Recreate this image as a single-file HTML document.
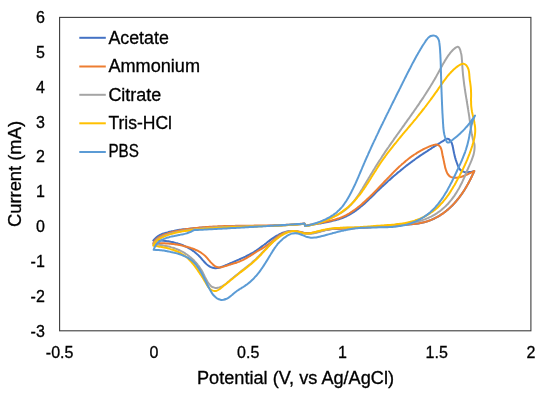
<!DOCTYPE html>
<html><head><meta charset="utf-8"><title>Cyclic voltammogram</title>
<style>
html,body{margin:0;padding:0;background:#fff;}
svg{display:block;font-family:"Liberation Sans",sans-serif;fill:#000;}
text{stroke:#000;stroke-width:0.3px;}
</style></head><body>
<svg width="550" height="394" viewBox="0 0 550 394">
<rect x="0" y="0" width="550" height="394" fill="#fff"/>
<rect x="59.6" y="17.4" width="471.3" height="313.4" fill="none" stroke="#3c3c3c" stroke-width="1.1"/>
<g fill="none" stroke-width="2" stroke-linejoin="round" stroke-linecap="round">
<path d="M153.3 240.6C153.6 240.3 154.4 239.2 155.0 238.6C155.6 238.0 156.2 237.5 156.8 237.0C157.5 236.5 158.2 236.0 158.9 235.6C159.6 235.2 160.4 234.8 161.1 234.5C161.9 234.1 162.6 233.8 163.4 233.5C164.2 233.3 165.0 233.0 165.8 232.8C166.6 232.5 167.4 232.3 168.2 232.1C169.0 231.8 169.9 231.6 170.7 231.5C171.5 231.3 172.3 231.1 173.2 230.9C174.0 230.7 174.8 230.6 175.7 230.4C176.5 230.3 177.3 230.2 178.2 230.0C179.0 229.9 179.9 229.8 180.7 229.7C181.6 229.5 182.4 229.4 183.3 229.3C184.1 229.2 184.9 229.1 185.8 229.0C186.6 228.9 187.5 228.8 188.3 228.8C189.2 228.7 190.0 228.6 190.9 228.5C191.7 228.4 192.6 228.4 193.4 228.3C194.3 228.2 195.1 228.1 196.0 228.1C196.8 228.0 197.6 227.9 198.5 227.9C199.3 227.8 200.2 227.8 201.0 227.7C201.9 227.6 202.7 227.6 203.6 227.5C204.4 227.5 205.2 227.4 206.1 227.4C206.9 227.3 207.8 227.3 208.6 227.3C209.5 227.2 210.3 227.2 211.1 227.1C212.0 227.1 212.8 227.1 213.7 227.0C214.5 227.0 215.4 226.9 216.2 226.9C217.0 226.9 217.9 226.9 218.7 226.8C219.6 226.8 220.4 226.8 221.2 226.7C222.1 226.7 222.9 226.7 223.8 226.7C224.6 226.7 225.4 226.6 226.3 226.6C227.1 226.6 228.0 226.6 228.8 226.6C229.6 226.5 230.5 226.5 231.3 226.5C232.2 226.5 233.0 226.5 233.8 226.5C234.7 226.4 235.5 226.4 236.4 226.4C237.2 226.4 238.0 226.4 238.9 226.4C239.7 226.4 240.6 226.3 241.4 226.3C242.2 226.3 243.1 226.3 243.9 226.3C244.8 226.3 245.6 226.3 246.4 226.3C247.3 226.2 248.1 226.2 249.0 226.2C249.8 226.2 250.6 226.2 251.5 226.2C252.3 226.2 253.1 226.2 254.0 226.2C254.8 226.1 255.7 226.1 256.5 226.1C257.3 226.1 258.2 226.1 259.0 226.1C259.9 226.1 260.7 226.0 261.5 226.0C262.4 226.0 263.2 226.0 264.1 226.0C264.9 225.9 265.7 225.9 266.6 225.9C267.4 225.9 268.3 225.9 269.1 225.8C269.9 225.8 270.8 225.8 271.6 225.8C272.5 225.7 273.3 225.7 274.1 225.7C275.0 225.6 275.8 225.6 276.7 225.6C277.5 225.6 278.3 225.5 279.2 225.5C280.0 225.4 280.9 225.4 281.7 225.4C282.6 225.3 283.4 225.3 284.2 225.2C285.1 225.2 285.9 225.2 286.8 225.1C287.6 225.1 288.5 225.0 289.3 225.0C290.1 224.9 291.0 224.8 291.8 224.8C292.7 224.7 293.5 224.7 294.4 224.6C295.2 224.5 296.0 224.5 296.9 224.4C297.7 224.3 298.6 224.3 299.4 224.2C300.3 224.1 301.1 224.0 302.0 224.0C302.8 223.9 304.1 223.7 304.5 223.7C304.6 224.1 305.1 225.6 305.2 226.0C305.6 225.9 306.7 225.7 307.5 225.5C308.3 225.4 309.1 225.2 309.9 225.1C310.7 224.9 311.5 224.8 312.3 224.6C313.2 224.5 314.0 224.3 314.8 224.2C315.6 224.1 316.5 223.9 317.3 223.8C318.1 223.7 319.0 223.5 319.8 223.4C320.7 223.2 321.5 223.1 322.4 222.9C323.2 222.8 324.1 222.6 324.9 222.5C325.8 222.3 326.6 222.2 327.4 222.0C328.3 221.8 329.1 221.7 330.0 221.5C330.8 221.3 331.7 221.1 332.5 220.9C333.3 220.7 334.2 220.5 335.0 220.3C335.8 220.1 336.6 219.8 337.5 219.6C338.3 219.3 339.1 219.1 339.9 218.8C340.7 218.6 341.5 218.3 342.3 218.0C343.0 217.7 343.8 217.4 344.6 217.0C345.4 216.7 346.1 216.3 346.9 216.0C347.6 215.6 348.3 215.2 349.1 214.8C349.8 214.4 350.5 214.0 351.2 213.6C351.9 213.2 352.6 212.7 353.3 212.3C354.0 211.8 354.7 211.4 355.4 210.9C356.1 210.4 356.7 209.9 357.4 209.4C358.1 208.9 358.7 208.4 359.4 207.9C360.0 207.4 360.7 206.8 361.3 206.3C362.0 205.8 362.6 205.2 363.2 204.7C363.9 204.1 364.5 203.6 365.1 203.0C365.7 202.4 366.4 201.8 367.0 201.3C367.6 200.7 368.2 200.1 368.8 199.5C369.4 198.9 370.0 198.4 370.7 197.8C371.3 197.2 371.9 196.6 372.5 196.0C373.1 195.4 373.7 194.8 374.3 194.2C374.9 193.6 375.5 193.0 376.1 192.4C376.7 191.8 377.3 191.2 377.9 190.6C378.6 190.0 379.2 189.5 379.8 188.9C380.4 188.3 381.0 187.7 381.6 187.1C382.2 186.5 382.8 186.0 383.5 185.4C384.1 184.8 384.7 184.2 385.3 183.7C385.9 183.1 386.6 182.5 387.2 182.0C387.8 181.4 388.4 180.8 389.1 180.3C389.7 179.7 390.3 179.1 391.0 178.6C391.6 178.0 392.2 177.5 392.9 176.9C393.5 176.4 394.1 175.8 394.8 175.3C395.4 174.7 396.0 174.2 396.7 173.7C397.3 173.1 398.0 172.6 398.6 172.0C399.3 171.5 399.9 171.0 400.6 170.4C401.2 169.9 401.9 169.4 402.5 168.9C403.2 168.3 403.8 167.8 404.5 167.3C405.1 166.8 405.8 166.3 406.4 165.8C407.1 165.2 407.8 164.7 408.4 164.2C409.1 163.7 409.8 163.2 410.4 162.7C411.1 162.2 411.8 161.7 412.4 161.2C413.1 160.7 413.8 160.2 414.5 159.8C415.1 159.3 415.8 158.8 416.5 158.3C417.2 157.8 417.9 157.3 418.5 156.9C419.2 156.4 419.9 155.9 420.6 155.4C421.3 155.0 422.0 154.5 422.7 154.0C423.4 153.6 424.1 153.1 424.8 152.7C425.5 152.2 426.2 151.7 426.9 151.3C427.6 150.8 428.3 150.4 429.0 149.9C429.7 149.5 430.4 149.0 431.1 148.6C431.8 148.1 432.5 147.6 433.2 147.2C434.0 146.7 434.7 146.3 435.4 145.8C436.1 145.4 436.8 144.9 437.6 144.5C438.3 144.0 439.0 143.5 439.7 143.1C440.5 142.6 441.2 142.1 441.9 141.7C442.6 141.2 443.4 140.7 444.1 140.3C444.8 139.8 445.6 139.2 446.3 139.0C447.0 138.8 447.8 138.7 448.5 139.0C449.1 139.3 449.8 140.0 450.4 140.7C450.9 141.3 451.4 142.2 451.7 143.0C452.1 143.9 452.3 144.7 452.5 145.6C452.8 146.5 452.9 147.4 453.1 148.2C453.2 149.1 453.4 149.9 453.6 150.7C453.7 151.6 453.9 152.4 454.1 153.2C454.3 153.9 454.4 154.7 454.6 155.5C454.8 156.3 455.0 157.1 455.2 157.8C455.5 158.6 455.7 159.4 455.9 160.1C456.2 160.9 456.4 161.7 456.7 162.5C457.0 163.3 457.3 164.1 457.6 164.9C457.9 165.7 458.2 166.5 458.6 167.3C459.1 168.0 459.5 168.8 460.0 169.5C460.5 170.1 461.2 170.6 461.9 171.1C462.6 171.5 463.4 171.7 464.2 171.9C465.1 172.1 466.0 172.2 466.8 172.3C467.7 172.3 468.7 172.2 469.5 172.1C470.4 172.0 471.3 171.9 472.1 171.7C472.9 171.5 473.9 171.1 474.3 171.0C474.1 171.4 473.6 172.5 473.3 173.3C472.9 174.0 472.6 174.8 472.2 175.6C471.9 176.3 471.5 177.1 471.1 177.8C470.8 178.6 470.4 179.3 470.0 180.1C469.6 180.8 469.3 181.6 468.9 182.3C468.5 183.0 468.1 183.8 467.7 184.5C467.2 185.2 466.8 186.0 466.4 186.7C466.0 187.4 465.5 188.1 465.1 188.9C464.7 189.6 464.2 190.3 463.8 191.0C463.3 191.7 462.9 192.4 462.4 193.1C461.9 193.8 461.4 194.5 460.9 195.1C460.5 195.8 460.0 196.5 459.5 197.2C459.0 197.8 458.4 198.5 457.9 199.1C457.4 199.8 456.9 200.4 456.3 201.1C455.8 201.7 455.2 202.3 454.7 202.9C454.1 203.6 453.5 204.2 453.0 204.8C452.4 205.4 451.8 205.9 451.2 206.5C450.6 207.1 450.0 207.7 449.4 208.2C448.7 208.8 448.1 209.4 447.5 209.9C446.8 210.4 446.2 211.0 445.5 211.5C444.9 212.0 444.2 212.5 443.5 213.0C442.8 213.5 442.1 214.0 441.4 214.4C440.7 214.9 440.0 215.3 439.3 215.8C438.6 216.2 437.9 216.6 437.1 217.1C436.4 217.5 435.6 217.9 434.9 218.2C434.1 218.6 433.4 219.0 432.6 219.3C431.8 219.6 431.1 220.0 430.3 220.3C429.5 220.6 428.7 220.9 427.9 221.1C427.1 221.4 426.3 221.6 425.5 221.9C424.7 222.1 423.9 222.3 423.1 222.5C422.3 222.7 421.5 222.8 420.7 223.0C419.9 223.1 419.0 223.3 418.2 223.4C417.4 223.5 416.6 223.6 415.7 223.8C414.9 223.9 414.1 223.9 413.2 224.0C412.4 224.1 411.6 224.2 410.7 224.3C409.9 224.3 409.1 224.4 408.2 224.5C407.4 224.5 406.6 224.6 405.7 224.7C404.9 224.7 404.0 224.8 403.2 224.8C402.4 224.9 401.5 225.0 400.7 225.0C399.9 225.1 399.0 225.1 398.2 225.2C397.4 225.3 396.5 225.3 395.7 225.4C394.9 225.4 394.0 225.5 393.2 225.6C392.4 225.6 391.5 225.7 390.7 225.7C389.9 225.8 389.0 225.9 388.2 225.9C387.4 226.0 386.5 226.0 385.7 226.1C384.9 226.1 384.0 226.2 383.2 226.3C382.4 226.3 381.5 226.4 380.7 226.4C379.9 226.5 379.0 226.6 378.2 226.6C377.3 226.7 376.5 226.7 375.7 226.8C374.8 226.9 374.0 226.9 373.2 227.0C372.3 227.0 371.5 227.1 370.7 227.2C369.8 227.2 369.0 227.3 368.2 227.3C367.3 227.4 366.5 227.4 365.7 227.5C364.8 227.6 364.0 227.6 363.2 227.7C362.3 227.7 361.5 227.8 360.7 227.8C359.8 227.9 359.0 227.9 358.2 228.0C357.3 228.0 356.5 228.1 355.6 228.1C354.8 228.2 354.0 228.2 353.1 228.2C352.3 228.3 351.5 228.3 350.6 228.4C349.8 228.4 349.0 228.4 348.1 228.4C347.3 228.5 346.5 228.5 345.6 228.5C344.8 228.5 343.9 228.5 343.1 228.6C342.3 228.6 341.4 228.6 340.6 228.6C339.8 228.6 338.9 228.6 338.1 228.7C337.3 228.7 336.4 228.7 335.6 228.8C334.8 228.8 333.9 228.9 333.1 228.9C332.3 229.0 331.4 229.1 330.6 229.2C329.8 229.3 328.9 229.4 328.1 229.6C327.3 229.7 326.4 229.9 325.6 230.1C324.8 230.2 324.0 230.4 323.1 230.6C322.3 230.8 321.5 231.0 320.7 231.3C319.8 231.5 319.0 231.7 318.2 231.9C317.3 232.1 316.5 232.3 315.7 232.4C314.9 232.6 314.0 232.7 313.2 232.9C312.4 233.0 311.6 233.1 310.8 233.2C309.9 233.2 309.1 233.3 308.3 233.2C307.5 233.2 306.7 233.2 305.8 233.1C305.0 233.0 304.2 232.9 303.4 232.7C302.6 232.6 301.8 232.4 301.0 232.2C300.2 232.0 299.3 231.8 298.5 231.6C297.7 231.5 296.9 231.3 296.0 231.2C295.2 231.1 294.4 231.0 293.5 231.0C292.7 230.9 291.9 230.9 291.0 231.0C290.2 231.0 289.4 231.1 288.5 231.2C287.7 231.4 286.9 231.6 286.1 231.8C285.3 232.0 284.5 232.3 283.7 232.5C282.9 232.8 282.1 233.1 281.3 233.5C280.5 233.8 279.8 234.1 279.0 234.5C278.3 234.9 277.6 235.3 276.8 235.7C276.1 236.1 275.4 236.6 274.7 237.0C274.0 237.5 273.3 237.9 272.6 238.4C271.9 238.9 271.2 239.4 270.5 239.9C269.8 240.4 269.2 240.9 268.5 241.4C267.8 241.9 267.1 242.4 266.5 242.9C265.8 243.5 265.1 244.0 264.5 244.5C263.8 245.0 263.1 245.5 262.4 246.1C261.8 246.6 261.1 247.1 260.4 247.6C259.7 248.1 259.1 248.6 258.4 249.1C257.7 249.6 257.0 250.1 256.3 250.5C255.6 251.0 254.9 251.4 254.2 251.9C253.5 252.3 252.8 252.7 252.1 253.1C251.4 253.5 250.6 253.9 249.9 254.3C249.2 254.7 248.4 255.1 247.7 255.5C247.0 255.8 246.2 256.2 245.5 256.6C244.7 256.9 244.0 257.3 243.2 257.6C242.5 257.9 241.7 258.3 240.9 258.6C240.2 259.0 239.4 259.3 238.7 259.6C237.9 259.9 237.2 260.3 236.4 260.6C235.6 260.9 234.9 261.3 234.1 261.6C233.3 261.9 232.6 262.2 231.8 262.6C231.0 262.9 230.2 263.2 229.4 263.6C228.7 263.9 227.9 264.2 227.1 264.6C226.3 264.9 225.5 265.2 224.7 265.6C223.9 265.9 223.1 266.3 222.3 266.6C221.5 266.9 220.7 267.2 219.9 267.5C219.0 267.7 218.2 268.0 217.4 268.1C216.6 268.2 215.8 268.3 215.0 268.2C214.2 268.2 213.4 268.0 212.6 267.8C211.8 267.6 211.1 267.3 210.3 266.9C209.6 266.5 208.8 266.0 208.2 265.5C207.5 265.0 206.8 264.5 206.2 263.9C205.6 263.3 205.0 262.7 204.4 262.0C203.9 261.4 203.3 260.7 202.7 260.1C202.2 259.4 201.6 258.8 201.1 258.1C200.5 257.5 199.9 256.9 199.3 256.3C198.8 255.7 198.2 255.1 197.5 254.5C196.9 253.9 196.3 253.4 195.7 252.9C195.0 252.3 194.4 251.8 193.7 251.3C193.0 250.8 192.4 250.4 191.7 249.9C191.0 249.5 190.3 249.0 189.6 248.6C188.9 248.2 188.1 247.8 187.4 247.4C186.7 247.0 185.9 246.7 185.2 246.3C184.4 246.0 183.7 245.6 182.9 245.3C182.1 245.0 181.3 244.7 180.6 244.4C179.8 244.1 179.0 243.9 178.2 243.6C177.4 243.4 176.6 243.1 175.7 242.9C174.9 242.7 174.1 242.5 173.3 242.3C172.5 242.1 171.6 241.9 170.8 241.8C170.0 241.6 169.1 241.5 168.3 241.3C167.5 241.2 166.6 241.1 165.8 241.0C164.9 240.9 164.1 240.8 163.3 240.8C162.4 240.7 161.6 240.6 160.8 240.6C159.9 240.6 159.1 240.5 158.2 240.5C157.4 240.5 156.6 240.5 155.8 240.5C154.9 240.5 153.7 240.6 153.3 240.6" stroke="#4472C4"/>
<path d="M153.3 243.3C153.5 242.9 154.2 241.8 154.7 241.1C155.2 240.4 155.8 239.8 156.3 239.3C156.9 238.7 157.6 238.2 158.2 237.7C158.9 237.2 159.6 236.8 160.3 236.4C161.0 236.0 161.8 235.7 162.5 235.3C163.3 235.0 164.1 234.7 164.8 234.4C165.6 234.1 166.4 233.8 167.2 233.6C168.0 233.3 168.8 233.1 169.6 232.8C170.4 232.6 171.2 232.3 172.0 232.1C172.8 231.9 173.7 231.7 174.5 231.5C175.3 231.3 176.1 231.1 176.9 230.9C177.8 230.7 178.6 230.6 179.4 230.4C180.2 230.2 181.0 230.1 181.9 229.9C182.7 229.8 183.5 229.6 184.4 229.5C185.2 229.4 186.0 229.2 186.9 229.1C187.7 229.0 188.5 228.9 189.4 228.8C190.2 228.6 191.0 228.5 191.9 228.4C192.7 228.3 193.5 228.2 194.4 228.1C195.2 228.0 196.1 228.0 196.9 227.9C197.7 227.8 198.6 227.7 199.4 227.6C200.2 227.5 201.1 227.5 201.9 227.4C202.7 227.3 203.6 227.3 204.4 227.2C205.2 227.1 206.1 227.1 206.9 227.0C207.7 226.9 208.6 226.9 209.4 226.8C210.3 226.8 211.1 226.7 211.9 226.7C212.8 226.6 213.6 226.6 214.4 226.5C215.3 226.5 216.1 226.5 216.9 226.4C217.8 226.4 218.6 226.3 219.4 226.3C220.3 226.3 221.1 226.2 221.9 226.2C222.8 226.2 223.6 226.2 224.4 226.1C225.3 226.1 226.1 226.1 226.9 226.0C227.8 226.0 228.6 226.0 229.4 226.0C230.3 226.0 231.1 225.9 231.9 225.9C232.8 225.9 233.6 225.9 234.4 225.9C235.3 225.9 236.1 225.8 236.9 225.8C237.8 225.8 238.6 225.8 239.4 225.8C240.3 225.8 241.1 225.8 241.9 225.8C242.8 225.8 243.6 225.7 244.4 225.7C245.3 225.7 246.1 225.7 246.9 225.7C247.8 225.7 248.6 225.7 249.4 225.7C250.3 225.7 251.1 225.7 251.9 225.7C252.8 225.7 253.6 225.6 254.4 225.6C255.3 225.6 256.1 225.6 256.9 225.6C257.8 225.6 258.6 225.6 259.4 225.6C260.3 225.6 261.1 225.6 261.9 225.6C262.8 225.5 263.6 225.5 264.4 225.5C265.3 225.5 266.1 225.5 266.9 225.5C267.8 225.5 268.6 225.4 269.4 225.4C270.3 225.4 271.1 225.4 271.9 225.4C272.8 225.3 273.6 225.3 274.4 225.3C275.3 225.3 276.1 225.3 276.9 225.2C277.8 225.2 278.6 225.2 279.4 225.1C280.3 225.1 281.1 225.1 281.9 225.0C282.8 225.0 283.6 225.0 284.4 224.9C285.3 224.9 286.1 224.9 286.9 224.8C287.8 224.8 288.6 224.7 289.4 224.7C290.3 224.6 291.1 224.6 292.0 224.5C292.8 224.5 293.6 224.4 294.5 224.4C295.3 224.3 296.1 224.2 297.0 224.2C297.8 224.1 298.6 224.0 299.5 224.0C300.3 223.9 301.2 223.8 302.0 223.7C302.8 223.7 304.1 223.5 304.5 223.5C304.6 223.9 305.1 225.4 305.2 225.8C305.6 225.7 306.8 225.5 307.6 225.3C308.4 225.1 309.2 225.0 310.0 224.8C310.8 224.7 311.6 224.5 312.5 224.4C313.3 224.2 314.1 224.1 314.9 223.9C315.7 223.8 316.6 223.6 317.4 223.5C318.2 223.3 319.1 223.2 319.9 223.0C320.7 222.9 321.6 222.7 322.4 222.5C323.2 222.4 324.0 222.2 324.9 222.0C325.7 221.9 326.5 221.7 327.4 221.5C328.2 221.3 329.0 221.1 329.8 220.9C330.6 220.7 331.5 220.5 332.3 220.3C333.1 220.1 333.9 219.9 334.7 219.6C335.5 219.4 336.3 219.2 337.1 218.9C337.9 218.6 338.7 218.4 339.4 218.1C340.2 217.8 341.0 217.5 341.8 217.2C342.5 216.8 343.3 216.5 344.0 216.2C344.8 215.8 345.5 215.4 346.2 215.1C347.0 214.7 347.7 214.3 348.4 213.9C349.1 213.5 349.8 213.0 350.5 212.6C351.2 212.1 351.9 211.7 352.6 211.2C353.3 210.8 354.0 210.3 354.7 209.8C355.3 209.3 356.0 208.8 356.7 208.3C357.3 207.8 358.0 207.3 358.6 206.8C359.3 206.3 359.9 205.7 360.6 205.2C361.2 204.7 361.8 204.1 362.5 203.6C363.1 203.0 363.7 202.5 364.4 201.9C365.0 201.3 365.6 200.8 366.2 200.2C366.8 199.6 367.4 199.1 368.0 198.5C368.6 197.9 369.2 197.3 369.8 196.8C370.4 196.2 371.0 195.6 371.6 195.0C372.2 194.4 372.8 193.8 373.4 193.2C374.0 192.6 374.6 192.0 375.2 191.4C375.8 190.8 376.3 190.2 376.9 189.6C377.5 189.0 378.1 188.4 378.7 187.8C379.2 187.2 379.8 186.6 380.4 186.0C381.0 185.4 381.6 184.7 382.1 184.1C382.7 183.5 383.3 182.9 383.9 182.3C384.4 181.7 385.0 181.1 385.6 180.5C386.2 179.9 386.7 179.3 387.3 178.7C387.9 178.1 388.5 177.5 389.1 176.9C389.6 176.3 390.2 175.7 390.8 175.1C391.4 174.5 392.0 173.9 392.6 173.3C393.2 172.7 393.7 172.1 394.3 171.5C394.9 170.9 395.5 170.3 396.1 169.7C396.7 169.2 397.3 168.6 397.9 168.0C398.5 167.5 399.1 166.9 399.7 166.3C400.4 165.8 401.0 165.2 401.6 164.6C402.2 164.1 402.8 163.5 403.5 163.0C404.1 162.5 404.7 161.9 405.4 161.4C406.0 160.9 406.6 160.3 407.3 159.8C407.9 159.3 408.6 158.8 409.2 158.3C409.9 157.8 410.6 157.3 411.2 156.8C411.9 156.3 412.6 155.8 413.2 155.4C413.9 154.9 414.6 154.4 415.3 154.0C416.0 153.5 416.7 153.1 417.4 152.6C418.1 152.2 418.8 151.8 419.6 151.3C420.3 150.9 421.0 150.5 421.7 150.1C422.5 149.7 423.2 149.3 424.0 149.0C424.7 148.6 425.5 148.2 426.2 147.9C427.0 147.5 427.8 147.2 428.5 146.9C429.3 146.5 430.1 146.2 430.9 145.9C431.7 145.6 432.5 145.3 433.3 145.1C434.2 144.9 435.0 144.6 435.8 144.6C436.7 144.6 437.5 144.8 438.2 145.1C438.9 145.4 439.6 146.0 440.1 146.6C440.6 147.3 440.9 148.1 441.2 148.9C441.5 149.7 441.7 150.6 441.9 151.4C442.0 152.3 442.2 153.2 442.3 154.0C442.5 154.9 442.7 155.7 442.8 156.5C443.0 157.3 443.2 158.1 443.4 158.8C443.5 159.6 443.7 160.4 443.9 161.2C444.0 162.0 444.2 162.8 444.3 163.6C444.5 164.4 444.7 165.3 444.9 166.1C445.0 166.9 445.2 167.7 445.5 168.6C445.7 169.4 446.0 170.2 446.3 171.0C446.6 171.7 446.9 172.5 447.3 173.3C447.8 174.0 448.2 174.7 448.8 175.3C449.3 176.0 450.0 176.5 450.7 176.9C451.4 177.2 452.2 177.5 453.1 177.6C453.9 177.8 454.8 177.8 455.6 177.8C456.4 177.8 457.3 177.7 458.1 177.6C458.9 177.5 459.8 177.3 460.6 177.1C461.4 176.9 462.2 176.6 463.0 176.3C463.8 176.0 464.6 175.7 465.3 175.4C466.1 175.0 466.9 174.7 467.6 174.3C468.4 173.9 469.2 173.6 469.9 173.2C470.7 172.8 471.4 172.4 472.1 172.1C472.9 171.7 473.9 171.2 474.3 171.0C474.1 171.4 473.6 172.5 473.3 173.3C472.9 174.1 472.6 174.8 472.2 175.6C471.9 176.3 471.5 177.1 471.1 177.8C470.8 178.6 470.4 179.4 470.0 180.1C469.6 180.9 469.2 181.6 468.8 182.3C468.4 183.1 468.0 183.8 467.6 184.6C467.2 185.3 466.8 186.0 466.4 186.8C465.9 187.5 465.5 188.2 465.1 188.9C464.6 189.6 464.2 190.3 463.7 191.1C463.3 191.8 462.8 192.5 462.3 193.2C461.9 193.8 461.4 194.5 460.9 195.2C460.4 195.9 459.9 196.6 459.4 197.2C458.9 197.9 458.4 198.6 457.8 199.2C457.3 199.9 456.8 200.5 456.2 201.1C455.7 201.8 455.1 202.4 454.6 203.0C454.0 203.6 453.4 204.3 452.9 204.9C452.3 205.5 451.7 206.1 451.1 206.6C450.5 207.2 449.9 207.8 449.3 208.3C448.6 208.9 448.0 209.5 447.4 210.0C446.7 210.5 446.1 211.1 445.4 211.6C444.7 212.1 444.0 212.6 443.4 213.1C442.7 213.6 442.0 214.1 441.3 214.5C440.6 215.0 439.9 215.5 439.1 215.9C438.4 216.3 437.7 216.7 436.9 217.2C436.2 217.6 435.4 218.0 434.7 218.3C433.9 218.7 433.2 219.1 432.4 219.4C431.6 219.7 430.9 220.1 430.1 220.4C429.3 220.7 428.5 220.9 427.7 221.2C426.9 221.5 426.1 221.7 425.3 221.9C424.5 222.2 423.7 222.4 422.9 222.5C422.1 222.7 421.2 222.9 420.4 223.0C419.6 223.2 418.8 223.3 417.9 223.4C417.1 223.6 416.3 223.7 415.5 223.8C414.6 223.9 413.8 224.0 412.9 224.1C412.1 224.1 411.3 224.2 410.4 224.3C409.6 224.4 408.8 224.4 407.9 224.5C407.1 224.6 406.2 224.6 405.4 224.7C404.6 224.7 403.7 224.8 402.9 224.9C402.0 224.9 401.2 225.0 400.4 225.0C399.5 225.1 398.7 225.2 397.8 225.2C397.0 225.3 396.2 225.3 395.3 225.4C394.5 225.5 393.7 225.5 392.8 225.6C392.0 225.6 391.1 225.7 390.3 225.8C389.5 225.8 388.6 225.9 387.8 225.9C387.0 226.0 386.1 226.1 385.3 226.1C384.5 226.2 383.6 226.2 382.8 226.3C381.9 226.4 381.1 226.4 380.3 226.5C379.4 226.5 378.6 226.6 377.8 226.6C376.9 226.7 376.1 226.8 375.3 226.8C374.4 226.9 373.6 226.9 372.7 227.0C371.9 227.1 371.1 227.1 370.2 227.2C369.4 227.2 368.6 227.3 367.7 227.4C366.9 227.4 366.0 227.5 365.2 227.5C364.4 227.6 363.5 227.6 362.7 227.7C361.9 227.7 361.0 227.8 360.2 227.9C359.3 227.9 358.5 228.0 357.7 228.0C356.8 228.1 356.0 228.1 355.2 228.1C354.3 228.2 353.5 228.2 352.6 228.3C351.8 228.3 351.0 228.3 350.1 228.4C349.3 228.4 348.4 228.5 347.6 228.5C346.8 228.5 345.9 228.5 345.1 228.6C344.2 228.6 343.4 228.6 342.6 228.6C341.7 228.6 340.9 228.7 340.0 228.7C339.2 228.7 338.4 228.7 337.5 228.8C336.7 228.8 335.8 228.8 335.0 228.9C334.2 228.9 333.3 229.0 332.5 229.1C331.7 229.1 330.8 229.2 330.0 229.3C329.2 229.4 328.3 229.5 327.5 229.7C326.7 229.8 325.9 229.9 325.0 230.1C324.2 230.3 323.4 230.4 322.6 230.6C321.7 230.8 320.9 231.0 320.1 231.2C319.3 231.3 318.4 231.5 317.6 231.7C316.8 231.9 316.0 232.1 315.1 232.2C314.3 232.4 313.5 232.6 312.6 232.7C311.8 232.9 311.0 233.0 310.1 233.1C309.3 233.2 308.4 233.3 307.6 233.3C306.8 233.3 306.0 233.2 305.2 233.1C304.4 233.0 303.6 232.8 302.8 232.6C302.0 232.4 301.2 232.1 300.4 231.9C299.5 231.7 298.7 231.5 297.9 231.4C297.1 231.2 296.2 231.2 295.4 231.1C294.5 231.0 293.7 231.0 292.8 231.1C292.0 231.1 291.1 231.1 290.3 231.3C289.4 231.4 288.6 231.5 287.8 231.7C286.9 231.9 286.1 232.1 285.3 232.4C284.5 232.7 283.7 233.0 283.0 233.3C282.2 233.7 281.5 234.1 280.8 234.5C280.1 235.0 279.4 235.4 278.7 235.9C278.1 236.4 277.4 236.9 276.7 237.5C276.1 238.0 275.5 238.6 274.8 239.1C274.2 239.7 273.5 240.2 272.9 240.8C272.2 241.3 271.6 241.9 270.9 242.4C270.3 242.9 269.6 243.4 268.9 243.9C268.3 244.4 267.6 244.9 266.9 245.4C266.2 245.9 265.5 246.3 264.8 246.8C264.1 247.2 263.4 247.7 262.7 248.1C262.0 248.6 261.2 249.0 260.5 249.4C259.8 249.9 259.1 250.3 258.4 250.7C257.6 251.1 256.9 251.6 256.2 252.0C255.5 252.5 254.8 252.9 254.0 253.4C253.3 253.8 252.6 254.3 251.9 254.7C251.2 255.2 250.5 255.6 249.8 256.1C249.0 256.5 248.3 257.0 247.6 257.4C246.9 257.8 246.2 258.3 245.4 258.7C244.7 259.1 244.0 259.5 243.2 259.9C242.5 260.2 241.7 260.6 241.0 260.9C240.2 261.3 239.4 261.6 238.7 261.9C237.9 262.1 237.1 262.4 236.3 262.7C235.5 262.9 234.7 263.2 233.9 263.4C233.1 263.6 232.3 263.9 231.5 264.1C230.6 264.4 229.8 264.6 229.0 264.9C228.1 265.2 227.3 265.4 226.5 265.7C225.6 266.0 224.8 266.3 223.9 266.6C223.1 266.9 222.3 267.1 221.5 267.3C220.6 267.4 219.8 267.5 219.1 267.5C218.3 267.4 217.5 267.3 216.8 267.0C216.0 266.7 215.3 266.3 214.6 265.9C213.9 265.4 213.3 264.8 212.7 264.2C212.0 263.6 211.4 263.0 210.8 262.4C210.2 261.7 209.7 261.0 209.1 260.4C208.5 259.7 208.0 259.1 207.4 258.4C206.8 257.8 206.3 257.1 205.7 256.5C205.1 255.9 204.5 255.3 203.8 254.8C203.2 254.3 202.5 253.8 201.8 253.3C201.2 252.8 200.5 252.3 199.8 251.9C199.1 251.5 198.3 251.1 197.6 250.7C196.8 250.3 196.1 250.0 195.3 249.7C194.6 249.3 193.8 249.0 193.0 248.7C192.2 248.4 191.4 248.1 190.6 247.9C189.8 247.6 189.0 247.4 188.2 247.1C187.4 246.9 186.6 246.7 185.8 246.5C185.0 246.2 184.1 246.0 183.3 245.9C182.5 245.7 181.7 245.5 180.9 245.3C180.0 245.1 179.2 245.0 178.4 244.8C177.6 244.7 176.7 244.5 175.9 244.4C175.1 244.3 174.2 244.2 173.4 244.1C172.6 244.0 171.7 243.9 170.9 243.8C170.1 243.7 169.2 243.6 168.4 243.5C167.5 243.5 166.7 243.4 165.9 243.4C165.0 243.3 164.2 243.3 163.4 243.2C162.5 243.2 161.7 243.2 160.8 243.2C160.0 243.2 159.2 243.2 158.3 243.2C157.5 243.2 156.6 243.2 155.8 243.2C155.0 243.2 153.7 243.3 153.3 243.3" stroke="#ED7D31"/>
<path d="M153.3 244.5C153.5 244.1 154.2 243.0 154.7 242.3C155.2 241.7 155.8 241.1 156.4 240.5C157.0 239.9 157.6 239.4 158.3 238.9C158.9 238.4 159.6 238.0 160.3 237.6C161.0 237.2 161.8 236.8 162.5 236.5C163.3 236.1 164.1 235.8 164.8 235.5C165.6 235.2 166.4 234.9 167.2 234.7C168.0 234.4 168.8 234.1 169.6 233.9C170.4 233.7 171.2 233.4 172.0 233.2C172.8 233.0 173.6 232.8 174.5 232.6C175.3 232.4 176.1 232.2 176.9 232.0C177.7 231.8 178.6 231.7 179.4 231.5C180.2 231.3 181.0 231.2 181.9 231.0C182.7 230.9 183.5 230.8 184.4 230.6C185.2 230.5 186.0 230.4 186.9 230.2C187.7 230.1 188.5 230.0 189.4 229.9C190.2 229.8 191.0 229.6 191.9 229.5C192.7 229.4 193.5 229.3 194.4 229.2C195.2 229.1 196.0 229.0 196.9 228.9C197.7 228.8 198.6 228.7 199.4 228.7C200.2 228.6 201.1 228.5 201.9 228.4C202.7 228.3 203.6 228.3 204.4 228.2C205.2 228.1 206.1 228.0 206.9 228.0C207.7 227.9 208.6 227.8 209.4 227.8C210.2 227.7 211.1 227.7 211.9 227.6C212.7 227.6 213.6 227.5 214.4 227.4C215.2 227.4 216.1 227.3 216.9 227.3C217.7 227.3 218.6 227.2 219.4 227.2C220.2 227.1 221.1 227.1 221.9 227.1C222.7 227.0 223.6 227.0 224.4 226.9C225.2 226.9 226.1 226.9 226.9 226.8C227.7 226.8 228.6 226.8 229.4 226.8C230.2 226.7 231.1 226.7 231.9 226.7C232.7 226.7 233.6 226.6 234.4 226.6C235.2 226.6 236.1 226.6 236.9 226.5C237.7 226.5 238.6 226.5 239.4 226.5C240.2 226.5 241.1 226.5 241.9 226.4C242.7 226.4 243.6 226.4 244.4 226.4C245.2 226.4 246.1 226.4 246.9 226.3C247.7 226.3 248.6 226.3 249.4 226.3C250.2 226.3 251.1 226.3 251.9 226.2C252.7 226.2 253.6 226.2 254.4 226.2C255.2 226.2 256.1 226.2 256.9 226.2C257.7 226.1 258.6 226.1 259.4 226.1C260.2 226.1 261.1 226.1 261.9 226.1C262.7 226.0 263.6 226.0 264.4 226.0C265.2 226.0 266.1 226.0 266.9 225.9C267.7 225.9 268.6 225.9 269.4 225.9C270.2 225.8 271.1 225.8 271.9 225.8C272.7 225.8 273.6 225.7 274.4 225.7C275.2 225.7 276.1 225.6 276.9 225.6C277.8 225.6 278.6 225.5 279.4 225.5C280.3 225.5 281.1 225.4 281.9 225.4C282.8 225.4 283.6 225.3 284.4 225.3C285.3 225.2 286.1 225.2 286.9 225.1C287.8 225.1 288.6 225.0 289.4 225.0C290.3 224.9 291.1 224.9 292.0 224.8C292.8 224.7 293.6 224.7 294.5 224.6C295.3 224.6 296.1 224.5 297.0 224.4C297.8 224.4 298.6 224.3 299.5 224.2C300.3 224.1 301.2 224.0 302.0 224.0C302.8 223.9 304.1 223.7 304.5 223.7C304.6 224.1 305.1 225.6 305.2 226.0C305.6 225.9 306.9 225.8 307.8 225.7C308.6 225.6 309.4 225.4 310.2 225.2C311.0 225.0 311.8 224.8 312.6 224.6C313.4 224.3 314.2 224.1 315.0 223.8C315.8 223.5 316.5 223.2 317.3 223.0C318.1 222.7 318.9 222.4 319.6 222.1C320.4 221.8 321.2 221.5 322.0 221.2C322.8 220.9 323.6 220.6 324.3 220.3C325.1 220.0 325.9 219.7 326.7 219.4C327.5 219.1 328.3 218.8 329.1 218.5C329.9 218.2 330.7 217.8 331.5 217.5C332.2 217.2 333.0 216.9 333.8 216.5C334.6 216.2 335.3 215.8 336.1 215.4C336.9 215.1 337.6 214.7 338.4 214.3C339.1 213.9 339.8 213.5 340.6 213.1C341.3 212.7 342.0 212.2 342.7 211.8C343.4 211.3 344.1 210.8 344.7 210.3C345.4 209.9 346.0 209.3 346.7 208.8C347.3 208.3 347.9 207.7 348.5 207.2C349.1 206.6 349.7 206.0 350.3 205.4C350.9 204.8 351.4 204.2 352.0 203.6C352.5 202.9 353.1 202.3 353.6 201.6C354.1 201.0 354.6 200.3 355.1 199.6C355.7 199.0 356.2 198.3 356.6 197.6C357.1 196.9 357.6 196.2 358.1 195.5C358.6 194.8 359.0 194.0 359.5 193.3C359.9 192.6 360.4 191.9 360.8 191.2C361.3 190.4 361.7 189.7 362.2 189.0C362.6 188.3 363.1 187.5 363.5 186.8C364.0 186.1 364.4 185.3 364.8 184.6C365.3 183.9 365.7 183.2 366.1 182.5C366.6 181.7 367.0 181.0 367.4 180.3C367.9 179.6 368.3 178.8 368.7 178.1C369.2 177.4 369.6 176.7 370.0 176.0C370.5 175.2 370.9 174.5 371.3 173.8C371.8 173.1 372.2 172.4 372.6 171.7C373.1 171.0 373.5 170.2 373.9 169.5C374.4 168.8 374.8 168.1 375.2 167.4C375.7 166.7 376.1 166.0 376.5 165.3C377.0 164.6 377.4 163.9 377.9 163.2C378.3 162.5 378.8 161.8 379.2 161.1C379.7 160.4 380.1 159.7 380.6 159.0C381.0 158.3 381.5 157.6 381.9 156.9C382.4 156.2 382.9 155.5 383.3 154.8C383.8 154.1 384.3 153.4 384.7 152.7C385.2 152.0 385.7 151.3 386.1 150.6C386.6 149.9 387.1 149.2 387.5 148.5C388.0 147.9 388.5 147.2 389.0 146.5C389.4 145.8 389.9 145.1 390.4 144.4C390.9 143.7 391.3 143.0 391.8 142.4C392.3 141.7 392.8 141.0 393.3 140.3C393.7 139.6 394.2 138.9 394.7 138.2C395.2 137.6 395.7 136.9 396.2 136.2C396.6 135.5 397.1 134.8 397.6 134.2C398.1 133.5 398.6 132.8 399.1 132.1C399.6 131.4 400.1 130.7 400.5 130.1C401.0 129.4 401.5 128.7 402.0 128.0C402.5 127.3 403.0 126.6 403.5 126.0C404.0 125.3 404.4 124.6 404.9 123.9C405.4 123.2 405.9 122.6 406.4 121.9C406.9 121.2 407.4 120.5 407.8 119.8C408.3 119.1 408.8 118.5 409.3 117.8C409.8 117.1 410.3 116.4 410.8 115.7C411.2 115.0 411.7 114.4 412.2 113.7C412.7 113.0 413.2 112.3 413.7 111.6C414.1 110.9 414.6 110.2 415.1 109.5C415.6 108.9 416.1 108.2 416.5 107.5C417.0 106.8 417.5 106.1 418.0 105.4C418.4 104.7 418.9 104.0 419.4 103.3C419.8 102.6 420.3 101.9 420.8 101.2C421.2 100.5 421.7 99.9 422.2 99.2C422.6 98.5 423.1 97.8 423.6 97.1C424.0 96.4 424.5 95.7 424.9 95.0C425.4 94.3 425.9 93.6 426.3 92.8C426.8 92.1 427.2 91.4 427.7 90.7C428.1 90.0 428.6 89.3 429.0 88.6C429.5 87.9 429.9 87.2 430.3 86.5C430.8 85.8 431.2 85.0 431.6 84.3C432.1 83.6 432.5 82.9 432.9 82.2C433.4 81.5 433.8 80.7 434.2 80.0C434.6 79.3 435.1 78.6 435.5 77.8C435.9 77.1 436.3 76.4 436.7 75.6C437.1 74.9 437.5 74.2 437.9 73.4C438.3 72.7 438.7 72.0 439.1 71.2C439.5 70.5 439.9 69.8 440.3 69.0C440.7 68.3 441.1 67.5 441.5 66.8C441.9 66.1 442.3 65.3 442.7 64.6C443.1 63.9 443.6 63.2 444.0 62.4C444.4 61.7 444.8 61.0 445.2 60.3C445.7 59.6 446.1 58.9 446.6 58.2C447.0 57.5 447.5 56.8 447.9 56.1C448.4 55.4 448.9 54.7 449.4 54.1C449.9 53.4 450.4 52.7 450.9 52.1C451.5 51.4 452.0 50.8 452.6 50.2C453.2 49.6 453.9 49.0 454.6 48.4C455.3 47.9 456.1 47.2 456.9 47.0C457.6 46.8 458.3 46.8 458.8 47.2C459.4 47.7 459.7 48.8 460.1 49.6C460.4 50.5 460.6 51.4 460.8 52.3C461.1 53.1 461.2 53.9 461.4 54.7C461.5 55.6 461.6 56.4 461.7 57.2C461.8 58.0 461.8 58.8 461.9 59.6C462.0 60.4 462.0 61.2 462.1 62.1C462.1 62.9 462.2 63.7 462.2 64.6C462.3 65.4 462.4 66.2 462.4 67.1C462.5 67.9 462.5 68.7 462.6 69.6C462.6 70.4 462.7 71.3 462.8 72.1C462.9 72.9 462.9 73.8 463.0 74.6C463.1 75.4 463.2 76.3 463.3 77.1C463.4 78.0 463.5 78.8 463.6 79.6C463.7 80.5 463.8 81.3 463.9 82.1C464.0 83.0 464.1 83.8 464.2 84.6C464.3 85.4 464.4 86.3 464.6 87.1C464.7 87.9 464.8 88.8 464.9 89.6C465.1 90.4 465.2 91.2 465.3 92.1C465.4 92.9 465.6 93.7 465.7 94.6C465.8 95.4 466.0 96.2 466.1 97.0C466.2 97.9 466.4 98.7 466.5 99.5C466.7 100.3 466.8 101.2 466.9 102.0C467.1 102.8 467.2 103.6 467.3 104.5C467.5 105.3 467.6 106.1 467.7 107.0C467.9 107.8 468.0 108.6 468.1 109.4C468.3 110.3 468.4 111.1 468.5 111.9C468.7 112.7 468.8 113.6 468.9 114.4C469.0 115.2 469.2 116.1 469.3 116.9C469.4 117.7 469.5 118.5 469.6 119.4C469.8 120.2 469.9 121.0 470.0 121.9C470.1 122.7 470.2 123.5 470.3 124.4C470.4 125.2 470.5 126.0 470.6 126.9C470.8 127.7 470.9 128.5 471.0 129.3C471.1 130.2 471.3 131.0 471.4 131.8C471.5 132.7 471.7 133.5 471.8 134.3C472.0 135.1 472.2 135.9 472.4 136.8C472.5 137.6 472.7 138.4 472.9 139.2C473.2 140.0 473.4 140.8 473.6 141.6C473.9 142.4 474.3 143.6 474.4 144.0C474.4 144.4 474.6 145.7 474.6 146.5C474.6 147.4 474.6 148.2 474.5 149.0C474.5 149.9 474.3 150.7 474.2 151.5C474.1 152.3 473.9 153.1 473.7 153.9C473.5 154.7 473.3 155.5 473.0 156.3C472.8 157.1 472.5 157.9 472.2 158.7C471.9 159.5 471.6 160.2 471.3 161.0C471.0 161.8 470.6 162.6 470.3 163.4C470.0 164.1 469.6 164.9 469.3 165.7C468.9 166.4 468.6 167.2 468.3 168.0C467.9 168.8 467.6 169.5 467.3 170.3C466.9 171.1 466.6 171.8 466.3 172.6C466.0 173.4 465.7 174.1 465.3 174.9C465.0 175.7 464.7 176.4 464.4 177.2C464.0 178.0 463.7 178.7 463.4 179.5C463.0 180.2 462.7 181.0 462.3 181.8C462.0 182.5 461.6 183.3 461.2 184.0C460.8 184.8 460.5 185.5 460.1 186.2C459.7 187.0 459.3 187.7 458.9 188.5C458.5 189.2 458.0 189.9 457.6 190.6C457.2 191.4 456.8 192.1 456.3 192.8C455.9 193.5 455.4 194.2 454.9 194.9C454.5 195.6 454.0 196.3 453.5 197.0C453.0 197.6 452.5 198.3 452.0 199.0C451.5 199.6 451.0 200.3 450.4 200.9C449.9 201.6 449.4 202.2 448.8 202.8C448.3 203.5 447.7 204.1 447.1 204.7C446.6 205.3 446.0 205.9 445.4 206.4C444.8 207.0 444.2 207.6 443.6 208.1C442.9 208.7 442.3 209.2 441.7 209.8C441.0 210.3 440.4 210.8 439.7 211.3C439.0 211.8 438.3 212.3 437.6 212.7C436.9 213.2 436.2 213.7 435.5 214.1C434.8 214.5 434.1 215.0 433.3 215.4C432.6 215.8 431.9 216.2 431.1 216.6C430.4 216.9 429.6 217.3 428.8 217.6C428.1 218.0 427.3 218.3 426.5 218.6C425.7 219.0 424.9 219.3 424.1 219.6C423.4 219.8 422.6 220.1 421.8 220.4C421.0 220.6 420.2 220.9 419.4 221.1C418.6 221.3 417.7 221.5 416.9 221.7C416.1 221.9 415.3 222.1 414.5 222.3C413.7 222.5 412.9 222.6 412.1 222.8C411.2 222.9 410.4 223.1 409.6 223.2C408.8 223.3 408.0 223.4 407.1 223.5C406.3 223.7 405.5 223.8 404.7 223.9C403.9 224.0 403.0 224.1 402.2 224.1C401.4 224.2 400.5 224.3 399.7 224.4C398.9 224.5 398.1 224.6 397.2 224.6C396.4 224.7 395.6 224.8 394.7 224.9C393.9 224.9 393.1 225.0 392.2 225.1C391.4 225.2 390.6 225.2 389.7 225.3C388.9 225.4 388.1 225.5 387.3 225.6C386.4 225.6 385.6 225.7 384.8 225.8C383.9 225.9 383.1 226.0 382.3 226.1C381.4 226.2 380.6 226.2 379.8 226.3C378.9 226.4 378.1 226.5 377.3 226.6C376.4 226.7 375.6 226.7 374.8 226.8C373.9 226.9 373.1 227.0 372.3 227.0C371.4 227.1 370.6 227.2 369.8 227.2C368.9 227.3 368.1 227.4 367.3 227.4C366.4 227.5 365.6 227.5 364.7 227.6C363.9 227.6 363.1 227.7 362.2 227.7C361.4 227.7 360.6 227.7 359.7 227.8C358.9 227.8 358.1 227.8 357.2 227.8C356.4 227.8 355.5 227.8 354.7 227.8C353.9 227.8 353.0 227.8 352.2 227.8C351.4 227.8 350.5 227.8 349.7 227.8C348.8 227.8 348.0 227.8 347.2 227.8C346.3 227.8 345.5 227.8 344.7 227.8C343.8 227.8 343.0 227.9 342.2 227.9C341.3 227.9 340.5 228.0 339.7 228.0C338.8 228.0 338.0 228.1 337.2 228.2C336.3 228.2 335.5 228.3 334.7 228.4C333.8 228.5 333.0 228.6 332.2 228.7C331.4 228.9 330.5 229.0 329.7 229.1C328.9 229.3 328.1 229.5 327.3 229.7C326.4 229.9 325.6 230.1 324.8 230.3C324.0 230.5 323.2 230.8 322.3 231.0C321.5 231.2 320.7 231.5 319.9 231.7C319.1 231.9 318.3 232.2 317.4 232.4C316.6 232.6 315.8 232.8 315.0 233.0C314.2 233.1 313.4 233.3 312.6 233.4C311.7 233.6 310.9 233.7 310.1 233.7C309.3 233.8 308.5 233.8 307.6 233.8C306.8 233.8 306.0 233.8 305.2 233.7C304.3 233.6 303.5 233.4 302.7 233.2C301.9 233.1 301.0 232.8 300.2 232.6C299.4 232.4 298.5 232.2 297.7 232.0C296.9 231.8 296.1 231.6 295.3 231.5C294.4 231.3 293.6 231.2 292.8 231.2C292.0 231.2 291.2 231.2 290.4 231.3C289.6 231.4 288.8 231.6 288.0 231.8C287.2 232.1 286.5 232.4 285.7 232.7C284.9 233.1 284.2 233.5 283.4 234.0C282.7 234.4 282.0 234.8 281.3 235.3C280.6 235.8 279.9 236.3 279.2 236.7C278.5 237.2 277.8 237.8 277.1 238.3C276.5 238.8 275.8 239.3 275.2 239.9C274.5 240.4 273.9 241.0 273.3 241.5C272.7 242.1 272.0 242.7 271.4 243.3C270.8 243.8 270.2 244.4 269.6 245.0C269.0 245.6 268.4 246.2 267.8 246.8C267.2 247.4 266.7 248.0 266.1 248.6C265.5 249.2 264.9 249.8 264.3 250.4C263.8 251.0 263.2 251.7 262.6 252.3C262.0 252.9 261.4 253.5 260.9 254.1C260.3 254.7 259.7 255.3 259.1 255.9C258.5 256.5 257.9 257.1 257.3 257.6C256.8 258.2 256.2 258.8 255.6 259.4C255.0 259.9 254.3 260.5 253.7 261.0C253.1 261.6 252.5 262.1 251.9 262.7C251.3 263.2 250.6 263.7 250.0 264.3C249.4 264.8 248.7 265.3 248.1 265.8C247.5 266.3 246.8 266.9 246.2 267.4C245.5 267.9 244.9 268.4 244.2 268.9C243.6 269.4 242.9 269.9 242.3 270.4C241.6 270.9 241.0 271.4 240.3 271.9C239.7 272.5 239.0 273.0 238.4 273.5C237.7 274.0 237.1 274.5 236.4 275.0C235.8 275.5 235.1 276.1 234.5 276.6C233.8 277.1 233.2 277.7 232.5 278.2C231.9 278.7 231.2 279.3 230.6 279.8C229.9 280.4 229.3 281.0 228.6 281.5C228.0 282.1 227.3 282.6 226.7 283.2C226.0 283.7 225.3 284.2 224.6 284.7C223.9 285.2 223.2 285.6 222.5 286.1C221.7 286.5 220.9 286.9 220.1 287.1C219.3 287.4 218.5 287.7 217.7 287.8C216.9 288.0 216.1 288.0 215.3 287.9C214.5 287.8 213.7 287.5 213.0 287.2C212.2 286.9 211.5 286.4 210.9 285.9C210.2 285.3 209.7 284.7 209.1 284.0C208.6 283.3 208.1 282.6 207.6 281.8C207.2 281.1 206.7 280.3 206.3 279.5C205.9 278.7 205.5 277.9 205.1 277.2C204.7 276.4 204.4 275.7 204.0 274.9C203.6 274.2 203.2 273.5 202.9 272.8C202.5 272.0 202.1 271.3 201.7 270.6C201.3 269.9 200.9 269.2 200.4 268.6C200.0 267.9 199.5 267.2 199.1 266.5C198.6 265.9 198.1 265.2 197.6 264.6C197.1 263.9 196.5 263.3 196.0 262.6C195.4 262.0 194.8 261.4 194.3 260.8C193.7 260.2 193.1 259.6 192.4 259.0C191.8 258.5 191.2 257.9 190.5 257.4C189.9 256.8 189.2 256.3 188.6 255.8C187.9 255.3 187.2 254.8 186.5 254.3C185.8 253.8 185.1 253.4 184.4 252.9C183.7 252.5 183.0 252.1 182.2 251.7C181.5 251.3 180.7 250.9 180.0 250.5C179.2 250.2 178.5 249.8 177.7 249.5C177.0 249.2 176.2 248.9 175.4 248.6C174.6 248.3 173.8 248.0 173.0 247.8C172.3 247.5 171.5 247.3 170.7 247.1C169.9 246.8 169.0 246.6 168.2 246.4C167.4 246.3 166.6 246.1 165.8 245.9C165.0 245.8 164.1 245.6 163.3 245.5C162.5 245.3 161.7 245.2 160.8 245.1C160.0 245.0 159.2 244.9 158.3 244.8C157.5 244.8 156.7 244.7 155.8 244.6C155.0 244.6 153.7 244.5 153.3 244.5" stroke="#A5A5A5"/>
<path d="M153.3 245.6C153.5 245.2 154.1 244.0 154.6 243.4C155.1 242.7 155.6 242.0 156.2 241.4C156.8 240.9 157.4 240.3 158.0 239.8C158.7 239.3 159.4 238.9 160.1 238.4C160.8 238.0 161.5 237.6 162.2 237.3C163.0 236.9 163.8 236.6 164.5 236.3C165.3 236.0 166.1 235.7 166.9 235.4C167.7 235.1 168.5 234.8 169.3 234.6C170.1 234.3 170.9 234.1 171.7 233.9C172.5 233.6 173.3 233.4 174.1 233.2C175.0 233.0 175.8 232.8 176.6 232.6C177.4 232.4 178.2 232.2 179.1 232.1C179.9 231.9 180.7 231.7 181.5 231.6C182.4 231.4 183.2 231.3 184.0 231.1C184.9 231.0 185.7 230.9 186.6 230.7C187.4 230.6 188.2 230.5 189.1 230.4C189.9 230.3 190.7 230.2 191.6 230.1C192.4 230.0 193.3 229.9 194.1 229.8C194.9 229.7 195.8 229.6 196.6 229.5C197.5 229.4 198.3 229.3 199.1 229.2C200.0 229.1 200.8 229.1 201.6 229.0C202.5 228.9 203.3 228.8 204.2 228.7C205.0 228.7 205.8 228.6 206.7 228.5C207.5 228.5 208.3 228.4 209.2 228.3C210.0 228.3 210.9 228.2 211.7 228.2C212.5 228.1 213.4 228.0 214.2 228.0C215.0 227.9 215.9 227.9 216.7 227.8C217.5 227.8 218.4 227.7 219.2 227.7C220.1 227.6 220.9 227.6 221.7 227.6C222.6 227.5 223.4 227.5 224.2 227.4C225.1 227.4 225.9 227.4 226.7 227.3C227.6 227.3 228.4 227.2 229.2 227.2C230.1 227.2 230.9 227.1 231.7 227.1C232.6 227.1 233.4 227.0 234.3 227.0C235.1 227.0 235.9 227.0 236.8 226.9C237.6 226.9 238.4 226.9 239.3 226.9C240.1 226.8 240.9 226.8 241.8 226.8C242.6 226.8 243.4 226.7 244.3 226.7C245.1 226.7 245.9 226.7 246.8 226.6C247.6 226.6 248.4 226.6 249.3 226.6C250.1 226.5 250.9 226.5 251.8 226.5C252.6 226.5 253.4 226.4 254.3 226.4C255.1 226.4 255.9 226.4 256.8 226.4C257.6 226.3 258.5 226.3 259.3 226.3C260.1 226.3 261.0 226.2 261.8 226.2C262.6 226.2 263.5 226.2 264.3 226.1C265.1 226.1 266.0 226.1 266.8 226.1C267.6 226.0 268.5 226.0 269.3 226.0C270.1 225.9 271.0 225.9 271.8 225.9C272.6 225.9 273.5 225.8 274.3 225.8C275.2 225.8 276.0 225.7 276.8 225.7C277.7 225.6 278.5 225.6 279.3 225.6C280.2 225.5 281.0 225.5 281.8 225.4C282.7 225.4 283.5 225.4 284.4 225.3C285.2 225.3 286.0 225.2 286.9 225.2C287.7 225.1 288.5 225.1 289.4 225.0C290.2 225.0 291.1 224.9 291.9 224.8C292.7 224.8 293.6 224.7 294.4 224.7C295.3 224.6 296.1 224.5 296.9 224.5C297.8 224.4 298.6 224.3 299.5 224.3C300.3 224.2 301.1 224.1 302.0 224.0C302.8 224.0 304.1 223.8 304.5 223.8C304.6 224.2 305.1 225.6 305.2 226.0C305.6 225.9 306.8 225.8 307.7 225.7C308.5 225.5 309.3 225.4 310.1 225.2C310.9 225.1 311.7 224.9 312.6 224.7C313.4 224.5 314.2 224.4 315.0 224.1C315.8 223.9 316.6 223.7 317.4 223.5C318.2 223.3 319.0 223.0 319.8 222.8C320.6 222.5 321.4 222.2 322.2 222.0C323.0 221.7 323.8 221.4 324.6 221.1C325.4 220.8 326.1 220.5 326.9 220.1C327.7 219.8 328.5 219.5 329.2 219.1C330.0 218.8 330.8 218.4 331.5 218.0C332.3 217.7 333.0 217.3 333.8 216.9C334.5 216.5 335.2 216.1 336.0 215.7C336.7 215.3 337.4 214.8 338.1 214.4C338.8 214.0 339.5 213.5 340.2 213.0C340.9 212.6 341.6 212.1 342.3 211.6C343.0 211.1 343.7 210.6 344.3 210.1C345.0 209.6 345.7 209.1 346.3 208.6C346.9 208.1 347.6 207.5 348.2 207.0C348.8 206.5 349.5 205.9 350.1 205.3C350.7 204.8 351.3 204.2 351.8 203.6C352.4 203.0 353.0 202.4 353.6 201.8C354.1 201.2 354.7 200.6 355.2 200.0C355.8 199.4 356.3 198.8 356.9 198.1C357.4 197.5 357.9 196.9 358.4 196.2C359.0 195.6 359.5 194.9 360.0 194.3C360.5 193.6 361.0 192.9 361.5 192.3C362.0 191.6 362.4 190.9 362.9 190.2C363.4 189.5 363.9 188.9 364.3 188.2C364.8 187.5 365.3 186.8 365.8 186.1C366.2 185.4 366.7 184.7 367.1 184.0C367.6 183.3 368.0 182.6 368.5 181.9C369.0 181.2 369.4 180.5 369.9 179.7C370.3 179.0 370.7 178.3 371.2 177.6C371.6 176.9 372.1 176.2 372.5 175.5C373.0 174.7 373.4 174.0 373.9 173.3C374.3 172.6 374.8 171.9 375.2 171.2C375.7 170.5 376.1 169.8 376.6 169.0C377.0 168.3 377.5 167.6 377.9 166.9C378.4 166.2 378.9 165.5 379.3 164.8C379.8 164.1 380.2 163.4 380.7 162.7C381.2 162.0 381.7 161.3 382.1 160.7C382.6 160.0 383.1 159.3 383.6 158.6C384.1 157.9 384.6 157.3 385.1 156.6C385.6 155.9 386.0 155.2 386.5 154.6C387.0 153.9 387.5 153.2 388.0 152.6C388.6 151.9 389.1 151.2 389.6 150.6C390.1 149.9 390.6 149.3 391.1 148.6C391.6 148.0 392.1 147.3 392.7 146.7C393.2 146.0 393.7 145.4 394.2 144.7C394.7 144.1 395.3 143.4 395.8 142.8C396.3 142.1 396.8 141.5 397.4 140.8C397.9 140.2 398.4 139.5 398.9 138.9C399.5 138.3 400.0 137.6 400.5 137.0C401.1 136.3 401.6 135.7 402.1 135.1C402.7 134.4 403.2 133.8 403.7 133.2C404.3 132.5 404.8 131.9 405.4 131.2C405.9 130.6 406.4 130.0 407.0 129.3C407.5 128.7 408.0 128.1 408.6 127.4C409.1 126.8 409.6 126.2 410.2 125.5C410.7 124.9 411.2 124.2 411.8 123.6C412.3 123.0 412.9 122.3 413.4 121.7C413.9 121.0 414.4 120.4 415.0 119.8C415.5 119.1 416.0 118.5 416.6 117.8C417.1 117.2 417.6 116.5 418.1 115.9C418.7 115.2 419.2 114.6 419.7 113.9C420.2 113.3 420.8 112.6 421.3 112.0C421.8 111.3 422.3 110.6 422.8 110.0C423.3 109.3 423.9 108.7 424.4 108.0C424.9 107.3 425.4 106.7 425.9 106.0C426.4 105.4 426.9 104.7 427.4 104.0C427.9 103.3 428.4 102.7 428.9 102.0C429.4 101.3 429.9 100.7 430.4 100.0C430.9 99.3 431.4 98.6 431.9 98.0C432.4 97.3 432.9 96.6 433.4 95.9C433.8 95.3 434.3 94.6 434.8 93.9C435.3 93.2 435.8 92.5 436.3 91.9C436.7 91.2 437.2 90.5 437.7 89.8C438.2 89.1 438.6 88.4 439.1 87.7C439.6 87.1 440.1 86.4 440.5 85.7C441.0 85.0 441.5 84.3 442.0 83.7C442.4 83.0 442.9 82.3 443.4 81.6C443.9 80.9 444.4 80.3 444.9 79.6C445.4 79.0 445.9 78.3 446.4 77.6C446.9 77.0 447.4 76.3 447.9 75.7C448.5 75.1 449.0 74.4 449.6 73.8C450.1 73.2 450.7 72.6 451.2 72.0C451.8 71.4 452.4 70.8 453.0 70.2C453.6 69.6 454.2 69.1 454.9 68.5C455.5 67.9 456.2 67.4 456.9 66.9C457.6 66.4 458.3 65.8 459.0 65.4C459.8 64.9 460.6 64.4 461.3 64.1C462.1 63.8 462.9 63.6 463.6 63.7C464.4 63.8 465.1 64.3 465.7 64.8C466.3 65.3 466.9 66.1 467.3 66.8C467.8 67.6 468.1 68.4 468.4 69.2C468.7 70.0 468.8 70.9 469.0 71.7C469.1 72.6 469.2 73.4 469.3 74.3C469.3 75.1 469.4 76.0 469.5 76.8C469.5 77.7 469.6 78.5 469.7 79.3C469.8 80.1 469.9 81.0 470.1 81.8C470.2 82.6 470.3 83.4 470.4 84.2C470.5 85.0 470.6 85.8 470.7 86.6C470.8 87.4 470.9 88.3 470.9 89.1C471.0 89.9 471.0 90.7 471.0 91.6C471.1 92.4 471.1 93.2 471.1 94.1C471.1 94.9 471.1 95.7 471.1 96.6C471.1 97.4 471.0 98.3 471.0 99.1C471.0 100.0 471.0 100.8 471.1 101.7C471.1 102.5 471.1 103.3 471.1 104.2C471.2 105.0 471.2 105.9 471.3 106.7C471.4 107.5 471.5 108.4 471.6 109.2C471.7 110.0 471.9 110.9 472.0 111.7C472.2 112.5 472.3 113.3 472.5 114.1C472.7 115.0 472.9 115.8 473.1 116.6C473.3 117.4 473.5 118.2 473.6 119.0C473.8 119.9 474.0 120.7 474.2 121.5C474.3 122.3 474.5 123.1 474.6 123.9C474.8 124.7 474.9 125.6 475.0 126.4C475.1 127.2 475.1 128.0 475.2 128.8C475.2 129.6 475.2 130.5 475.2 131.3C475.2 132.1 475.1 132.9 475.0 133.8C475.0 134.6 474.8 135.4 474.7 136.2C474.6 137.1 474.4 137.9 474.2 138.7C474.0 139.6 473.8 140.4 473.6 141.2C473.4 142.0 473.2 142.8 472.9 143.7C472.7 144.5 472.4 145.3 472.2 146.1C471.9 146.9 471.7 147.7 471.4 148.5C471.1 149.3 470.9 150.1 470.6 150.9C470.3 151.7 470.0 152.5 469.7 153.3C469.4 154.0 469.1 154.8 468.8 155.6C468.5 156.4 468.2 157.1 467.9 157.9C467.6 158.7 467.3 159.4 467.0 160.2C466.6 161.0 466.3 161.7 466.0 162.5C465.6 163.2 465.3 164.0 465.0 164.7C464.6 165.5 464.3 166.2 463.9 167.0C463.6 167.7 463.2 168.5 462.9 169.2C462.5 170.0 462.1 170.7 461.8 171.4C461.4 172.2 461.0 172.9 460.6 173.7C460.3 174.4 459.9 175.1 459.5 175.9C459.1 176.6 458.7 177.3 458.3 178.1C457.9 178.8 457.5 179.5 457.1 180.3C456.7 181.0 456.3 181.7 455.9 182.5C455.5 183.2 455.1 183.9 454.7 184.7C454.3 185.4 453.8 186.1 453.4 186.8C453.0 187.6 452.5 188.3 452.1 189.0C451.7 189.7 451.2 190.4 450.8 191.2C450.3 191.9 449.9 192.6 449.4 193.3C448.9 194.0 448.4 194.7 448.0 195.4C447.5 196.0 447.0 196.7 446.5 197.4C446.0 198.1 445.5 198.7 445.0 199.4C444.4 200.0 443.9 200.7 443.4 201.3C442.8 202.0 442.3 202.6 441.7 203.2C441.2 203.8 440.6 204.4 440.0 205.0C439.5 205.6 438.9 206.2 438.3 206.8C437.7 207.4 437.1 207.9 436.4 208.5C435.8 209.0 435.2 209.6 434.5 210.1C433.9 210.6 433.2 211.1 432.5 211.6C431.8 212.1 431.2 212.6 430.5 213.0C429.8 213.5 429.1 214.0 428.3 214.4C427.6 214.8 426.9 215.2 426.2 215.6C425.4 216.1 424.7 216.4 423.9 216.8C423.2 217.2 422.4 217.5 421.7 217.9C420.9 218.2 420.1 218.6 419.4 218.9C418.6 219.2 417.8 219.5 417.0 219.8C416.3 220.0 415.5 220.3 414.7 220.6C413.9 220.8 413.1 221.0 412.3 221.3C411.5 221.5 410.7 221.7 409.9 221.9C409.1 222.1 408.3 222.3 407.5 222.5C406.6 222.7 405.8 222.8 405.0 223.0C404.2 223.1 403.4 223.3 402.5 223.4C401.7 223.6 400.9 223.7 400.1 223.8C399.2 223.9 398.4 224.0 397.6 224.1C396.7 224.3 395.9 224.4 395.1 224.4C394.2 224.5 393.4 224.6 392.6 224.7C391.7 224.8 390.9 224.9 390.1 224.9C389.2 225.0 388.4 225.1 387.5 225.1C386.7 225.2 385.9 225.3 385.0 225.3C384.2 225.4 383.3 225.5 382.5 225.5C381.7 225.6 380.8 225.6 380.0 225.7C379.2 225.7 378.3 225.8 377.5 225.8C376.6 225.9 375.8 226.0 375.0 226.0C374.1 226.1 373.3 226.1 372.5 226.2C371.7 226.3 370.8 226.3 370.0 226.4C369.2 226.4 368.3 226.5 367.5 226.6C366.7 226.6 365.9 226.7 365.0 226.7C364.2 226.8 363.4 226.8 362.6 226.9C361.7 227.0 360.9 227.0 360.1 227.1C359.3 227.1 358.4 227.2 357.6 227.2C356.8 227.3 356.0 227.3 355.1 227.3C354.3 227.4 353.5 227.4 352.6 227.5C351.8 227.5 351.0 227.5 350.1 227.5C349.3 227.6 348.5 227.6 347.6 227.6C346.8 227.6 346.0 227.6 345.1 227.7C344.3 227.7 343.4 227.7 342.6 227.7C341.8 227.7 340.9 227.7 340.1 227.8C339.2 227.8 338.4 227.8 337.6 227.9C336.7 227.9 335.9 228.0 335.1 228.0C334.2 228.1 333.4 228.2 332.6 228.3C331.7 228.3 330.9 228.4 330.1 228.6C329.3 228.7 328.4 228.8 327.6 229.0C326.8 229.1 326.0 229.3 325.2 229.5C324.4 229.6 323.6 229.8 322.8 230.0C322.0 230.2 321.2 230.5 320.3 230.7C319.5 230.9 318.7 231.1 317.9 231.3C317.1 231.6 316.3 231.8 315.5 232.0C314.7 232.2 313.9 232.4 313.1 232.6C312.2 232.8 311.4 233.0 310.6 233.2C309.8 233.3 308.9 233.5 308.1 233.5C307.3 233.6 306.4 233.6 305.6 233.6C304.8 233.5 304.0 233.3 303.1 233.1C302.3 232.9 301.5 232.7 300.7 232.4C299.9 232.2 299.0 231.9 298.2 231.7C297.4 231.5 296.6 231.3 295.8 231.2C294.9 231.1 294.1 231.1 293.3 231.1C292.5 231.1 291.6 231.3 290.8 231.4C290.0 231.6 289.2 231.8 288.4 232.1C287.6 232.4 286.9 232.7 286.1 233.0C285.3 233.4 284.6 233.7 283.8 234.1C283.1 234.5 282.4 234.9 281.7 235.3C281.0 235.8 280.3 236.2 279.6 236.7C278.9 237.2 278.3 237.7 277.6 238.2C276.9 238.7 276.3 239.2 275.7 239.7C275.0 240.2 274.4 240.8 273.8 241.3C273.2 241.9 272.6 242.5 272.0 243.0C271.4 243.6 270.8 244.2 270.2 244.8C269.6 245.4 269.0 246.0 268.4 246.6C267.8 247.2 267.3 247.8 266.7 248.5C266.1 249.1 265.5 249.7 265.0 250.3C264.4 250.9 263.8 251.6 263.2 252.2C262.7 252.8 262.1 253.4 261.5 254.0C260.9 254.7 260.3 255.3 259.8 255.9C259.2 256.5 258.6 257.1 258.0 257.7C257.4 258.3 256.8 258.9 256.2 259.5C255.6 260.0 255.0 260.6 254.3 261.2C253.7 261.7 253.1 262.3 252.5 262.8C251.8 263.4 251.2 263.9 250.5 264.5C249.9 265.0 249.2 265.5 248.6 266.0C247.9 266.6 247.3 267.1 246.6 267.6C246.0 268.1 245.3 268.6 244.7 269.1C244.0 269.6 243.4 270.1 242.7 270.6C242.0 271.1 241.4 271.6 240.7 272.1C240.1 272.6 239.5 273.1 238.8 273.6C238.2 274.2 237.5 274.7 236.9 275.2C236.2 275.7 235.6 276.2 235.0 276.7C234.3 277.2 233.7 277.7 233.1 278.2C232.4 278.8 231.8 279.3 231.1 279.8C230.5 280.3 229.8 280.9 229.2 281.4C228.5 281.9 227.9 282.4 227.2 283.0C226.6 283.5 225.9 284.1 225.2 284.6C224.6 285.1 223.9 285.7 223.2 286.2C222.5 286.8 221.8 287.4 221.1 287.9C220.4 288.5 219.7 289.0 219.0 289.5C218.2 290.0 217.5 290.4 216.8 290.7C216.0 290.9 215.2 291.1 214.5 291.0C213.7 291.0 212.9 290.7 212.1 290.4C211.4 290.0 210.7 289.5 210.0 288.9C209.4 288.3 208.9 287.6 208.3 287.0C207.8 286.3 207.4 285.5 206.9 284.8C206.4 284.0 206.0 283.3 205.6 282.5C205.1 281.8 204.7 281.1 204.3 280.4C203.8 279.7 203.4 279.0 203.0 278.3C202.6 277.6 202.1 277.0 201.7 276.3C201.3 275.6 200.8 274.9 200.4 274.3C199.9 273.6 199.5 272.9 199.0 272.2C198.6 271.5 198.1 270.8 197.6 270.1C197.2 269.4 196.7 268.7 196.2 268.1C195.7 267.4 195.2 266.7 194.7 266.0C194.2 265.3 193.6 264.7 193.1 264.0C192.6 263.3 192.0 262.7 191.5 262.1C190.9 261.4 190.3 260.8 189.7 260.2C189.1 259.6 188.5 259.0 187.9 258.4C187.3 257.9 186.7 257.3 186.0 256.8C185.4 256.3 184.7 255.8 184.1 255.3C183.4 254.8 182.7 254.4 182.0 254.0C181.3 253.5 180.5 253.1 179.8 252.7C179.1 252.4 178.3 252.0 177.6 251.7C176.8 251.3 176.0 251.0 175.3 250.7C174.5 250.4 173.7 250.1 172.9 249.8C172.1 249.6 171.3 249.3 170.5 249.1C169.7 248.8 168.9 248.6 168.1 248.4C167.2 248.2 166.4 248.0 165.6 247.8C164.8 247.6 164.0 247.4 163.1 247.3C162.3 247.1 161.5 246.9 160.7 246.8C159.8 246.6 159.0 246.5 158.2 246.4C157.4 246.2 156.5 246.1 155.7 246.0C154.9 245.8 153.7 245.7 153.3 245.6" stroke="#FFC000"/>
<path d="M153.7 249.8C153.9 249.4 154.3 248.0 154.7 247.2C155.1 246.4 155.6 245.6 156.1 244.9C156.6 244.2 157.1 243.6 157.7 243.0C158.3 242.4 159.0 241.9 159.6 241.4C160.3 240.9 161.0 240.4 161.7 240.0C162.5 239.6 163.3 239.2 164.0 238.9C164.8 238.5 165.7 238.2 166.5 237.9C167.3 237.7 168.2 237.4 169.0 237.2C169.9 236.9 170.8 236.7 171.6 236.5C172.5 236.3 173.4 236.1 174.3 236.0C175.1 235.8 176.0 235.6 176.9 235.4C177.8 235.3 178.6 235.1 179.5 234.9C180.3 234.8 181.2 234.6 182.0 234.4C182.9 234.2 183.7 234.1 184.5 233.9C185.4 233.6 186.2 233.4 187.0 233.2C187.8 232.9 188.6 232.6 189.4 232.3C190.2 232.0 191.0 231.7 191.8 231.3C192.6 231.0 193.7 230.3 194.1 230.1C194.5 230.1 195.8 230.0 196.6 230.0C197.4 229.9 198.3 229.9 199.1 229.8C200.0 229.8 200.8 229.8 201.6 229.7C202.5 229.7 203.3 229.6 204.1 229.6C205.0 229.5 205.8 229.5 206.6 229.4C207.5 229.4 208.3 229.4 209.2 229.3C210.0 229.3 210.8 229.2 211.7 229.2C212.5 229.1 213.3 229.1 214.2 229.1C215.0 229.0 215.9 229.0 216.7 228.9C217.5 228.9 218.4 228.8 219.2 228.8C220.0 228.7 220.9 228.7 221.7 228.7C222.5 228.6 223.4 228.6 224.2 228.5C225.1 228.5 225.9 228.4 226.7 228.4C227.6 228.3 228.4 228.3 229.2 228.2C230.1 228.2 230.9 228.2 231.7 228.1C232.6 228.1 233.4 228.0 234.3 228.0C235.1 227.9 235.9 227.9 236.8 227.8C237.6 227.8 238.4 227.7 239.3 227.7C240.1 227.6 241.0 227.6 241.8 227.6C242.6 227.5 243.5 227.5 244.3 227.4C245.1 227.4 246.0 227.3 246.8 227.3C247.6 227.2 248.5 227.2 249.3 227.1C250.2 227.1 251.0 227.0 251.8 227.0C252.7 226.9 253.5 226.9 254.3 226.8C255.2 226.8 256.0 226.7 256.8 226.7C257.7 226.6 258.5 226.6 259.4 226.5C260.2 226.5 261.0 226.4 261.9 226.4C262.7 226.3 263.5 226.3 264.4 226.2C265.2 226.2 266.0 226.1 266.9 226.1C267.7 226.0 268.6 226.0 269.4 225.9C270.2 225.9 271.1 225.8 271.9 225.8C272.7 225.7 273.6 225.7 274.4 225.6C275.2 225.6 276.1 225.5 276.9 225.5C277.8 225.4 278.6 225.4 279.4 225.3C280.3 225.2 281.1 225.2 281.9 225.1C282.8 225.1 283.6 225.0 284.4 225.0C285.3 224.9 286.1 224.9 286.9 224.8C287.8 224.8 288.6 224.7 289.5 224.6C290.3 224.6 291.1 224.5 292.0 224.5C292.8 224.4 293.6 224.4 294.5 224.3C295.3 224.2 296.1 224.2 297.0 224.1C297.8 224.1 298.7 224.0 299.5 224.0C300.3 223.9 301.2 223.8 302.0 223.8C302.8 223.7 304.1 223.6 304.5 223.6C304.6 224.0 305.1 225.5 305.2 225.9C305.6 225.8 306.8 225.6 307.6 225.4C308.4 225.2 309.2 225.0 310.0 224.9C310.8 224.7 311.6 224.4 312.4 224.2C313.2 224.0 314.0 223.8 314.8 223.5C315.6 223.3 316.4 223.0 317.2 222.7C318.0 222.5 318.8 222.2 319.6 221.9C320.4 221.6 321.2 221.3 322.0 220.9C322.7 220.6 323.5 220.3 324.3 219.9C325.1 219.6 325.8 219.2 326.6 218.8C327.3 218.4 328.1 218.0 328.8 217.6C329.5 217.2 330.3 216.8 331.0 216.3C331.7 215.9 332.4 215.4 333.1 215.0C333.8 214.5 334.5 214.0 335.1 213.5C335.8 213.0 336.4 212.5 337.1 211.9C337.7 211.4 338.3 210.8 338.9 210.3C339.5 209.7 340.1 209.1 340.6 208.5C341.2 207.9 341.7 207.2 342.3 206.6C342.8 206.0 343.3 205.3 343.8 204.6C344.3 204.0 344.8 203.3 345.2 202.6C345.7 201.9 346.1 201.2 346.6 200.5C347.0 199.8 347.4 199.1 347.9 198.4C348.3 197.7 348.7 196.9 349.1 196.2C349.5 195.5 349.9 194.8 350.3 194.0C350.7 193.3 351.1 192.6 351.5 191.8C351.9 191.1 352.2 190.3 352.6 189.6C353.0 188.8 353.3 188.1 353.7 187.3C354.1 186.6 354.4 185.8 354.8 185.1C355.1 184.3 355.5 183.5 355.8 182.8C356.2 182.0 356.5 181.2 356.8 180.5C357.2 179.7 357.5 178.9 357.8 178.2C358.2 177.4 358.5 176.6 358.8 175.9C359.2 175.1 359.5 174.3 359.8 173.5C360.1 172.8 360.5 172.0 360.8 171.2C361.1 170.5 361.4 169.7 361.8 168.9C362.1 168.1 362.4 167.4 362.7 166.6C363.1 165.8 363.4 165.1 363.7 164.3C364.1 163.5 364.4 162.8 364.7 162.0C365.1 161.2 365.4 160.5 365.7 159.7C366.1 158.9 366.4 158.2 366.7 157.4C367.1 156.6 367.4 155.9 367.8 155.1C368.1 154.3 368.4 153.6 368.8 152.8C369.1 152.1 369.5 151.3 369.8 150.5C370.2 149.8 370.5 149.0 370.8 148.3C371.2 147.5 371.5 146.7 371.9 146.0C372.2 145.2 372.6 144.5 372.9 143.7C373.3 142.9 373.6 142.2 374.0 141.4C374.3 140.7 374.7 139.9 375.1 139.2C375.4 138.4 375.8 137.7 376.1 136.9C376.5 136.2 376.8 135.4 377.2 134.6C377.5 133.9 377.9 133.1 378.3 132.4C378.6 131.6 379.0 130.9 379.3 130.1C379.7 129.4 380.1 128.6 380.4 127.9C380.8 127.1 381.1 126.4 381.5 125.6C381.9 124.9 382.2 124.1 382.6 123.4C383.0 122.6 383.3 121.9 383.7 121.1C384.0 120.4 384.4 119.6 384.8 118.9C385.1 118.1 385.5 117.4 385.9 116.6C386.2 115.9 386.6 115.2 387.0 114.4C387.3 113.7 387.7 112.9 388.1 112.2C388.5 111.4 388.8 110.7 389.2 109.9C389.6 109.2 389.9 108.4 390.3 107.7C390.7 106.9 391.0 106.2 391.4 105.4C391.8 104.7 392.2 104.0 392.5 103.2C392.9 102.5 393.3 101.7 393.6 101.0C394.0 100.2 394.4 99.5 394.8 98.7C395.1 98.0 395.5 97.2 395.9 96.5C396.2 95.7 396.6 95.0 397.0 94.2C397.4 93.5 397.7 92.8 398.1 92.0C398.5 91.3 398.9 90.5 399.2 89.8C399.6 89.0 400.0 88.3 400.4 87.5C400.7 86.8 401.1 86.0 401.5 85.3C401.8 84.5 402.2 83.8 402.6 83.0C403.0 82.3 403.3 81.5 403.7 80.8C404.1 80.0 404.5 79.3 404.8 78.5C405.2 77.8 405.6 77.1 406.0 76.3C406.3 75.6 406.7 74.8 407.1 74.1C407.5 73.3 407.8 72.6 408.2 71.8C408.6 71.1 409.0 70.3 409.4 69.6C409.7 68.8 410.1 68.1 410.5 67.4C410.9 66.6 411.3 65.9 411.7 65.1C412.1 64.4 412.4 63.7 412.8 62.9C413.2 62.2 413.6 61.5 414.0 60.7C414.4 60.0 414.8 59.3 415.2 58.5C415.6 57.8 416.0 57.1 416.4 56.3C416.8 55.6 417.2 54.9 417.6 54.2C418.0 53.4 418.4 52.7 418.9 52.0C419.3 51.3 419.7 50.6 420.1 49.9C420.5 49.2 421.0 48.4 421.4 47.7C421.8 47.0 422.3 46.3 422.7 45.6C423.1 44.9 423.6 44.2 424.1 43.5C424.5 42.8 425.0 42.1 425.4 41.4C425.9 40.7 426.4 39.9 426.9 39.3C427.4 38.6 428.0 38.0 428.6 37.4C429.2 36.9 429.9 36.4 430.7 36.0C431.5 35.7 432.4 35.4 433.2 35.4C434.0 35.4 434.8 35.6 435.5 36.0C436.3 36.4 437.0 37.1 437.5 37.7C438.0 38.4 438.4 39.2 438.7 39.9C439.0 40.7 439.2 41.5 439.3 42.4C439.5 43.2 439.5 44.1 439.6 44.9C439.7 45.8 439.8 46.6 439.9 47.5C439.9 48.3 440.0 49.2 440.1 50.0C440.1 50.9 440.2 51.7 440.2 52.5C440.3 53.4 440.3 54.2 440.4 55.0C440.4 55.9 440.4 56.7 440.5 57.5C440.5 58.3 440.6 59.2 440.6 60.0C440.6 60.8 440.7 61.6 440.7 62.4C440.7 63.3 440.7 64.1 440.8 64.9C440.8 65.7 440.8 66.6 440.8 67.4C440.8 68.2 440.9 69.0 440.9 69.8C440.9 70.7 440.9 71.5 441.0 72.3C441.0 73.2 441.0 74.0 441.0 74.8C441.0 75.6 441.1 76.5 441.1 77.3C441.1 78.1 441.1 79.0 441.2 79.8C441.2 80.7 441.2 81.5 441.2 82.3C441.3 83.2 441.3 84.0 441.3 84.9C441.3 85.7 441.4 86.5 441.4 87.4C441.4 88.2 441.5 89.1 441.5 89.9C441.5 90.7 441.5 91.6 441.6 92.4C441.6 93.3 441.6 94.1 441.7 95.0C441.7 95.8 441.7 96.7 441.8 97.5C441.8 98.3 441.8 99.2 441.9 100.0C441.9 100.9 441.9 101.7 442.0 102.5C442.0 103.4 442.0 104.2 442.1 105.1C442.1 105.9 442.2 106.7 442.2 107.6C442.2 108.4 442.3 109.3 442.3 110.1C442.4 110.9 442.4 111.8 442.4 112.6C442.5 113.4 442.5 114.3 442.6 115.1C442.6 115.9 442.7 116.7 442.7 117.6C442.8 118.4 442.8 119.2 442.9 120.0C442.9 120.9 442.9 121.7 443.0 122.5C443.0 123.3 443.1 124.1 443.2 124.9C443.2 125.7 443.3 126.6 443.3 127.4C443.4 128.2 443.5 129.0 443.6 129.8C443.7 130.6 443.8 131.4 443.9 132.3C444.1 133.1 444.2 133.9 444.4 134.8C444.6 135.6 444.8 136.4 445.1 137.3C445.3 138.1 445.6 139.1 446.0 139.9C446.3 140.7 446.6 141.7 447.1 142.2C447.6 142.6 448.1 142.7 448.8 142.5C449.4 142.4 450.1 141.7 450.8 141.2C451.6 140.7 452.3 140.1 453.0 139.5C453.7 139.0 454.5 138.4 455.2 137.8C455.8 137.3 456.5 136.7 457.1 136.2C457.8 135.6 458.4 135.1 459.0 134.6C459.6 134.0 460.2 133.5 460.8 132.9C461.4 132.3 462.0 131.8 462.5 131.2C463.1 130.6 463.7 130.0 464.3 129.4C464.8 128.8 465.4 128.2 465.9 127.5C466.5 126.9 467.1 126.3 467.6 125.6C468.1 125.0 468.7 124.3 469.2 123.6C469.7 123.0 470.3 122.3 470.8 121.6C471.3 120.9 471.8 120.3 472.2 119.6C472.7 118.9 473.2 118.2 473.7 117.5C474.1 116.9 474.8 115.8 475.0 115.5C474.8 115.9 474.3 117.0 474.0 117.7C473.6 118.5 473.4 119.2 473.1 120.0C472.8 120.8 472.5 121.6 472.3 122.4C472.1 123.2 471.9 124.0 471.6 124.8C471.4 125.6 471.2 126.4 471.1 127.3C470.9 128.1 470.7 128.9 470.5 129.8C470.4 130.6 470.2 131.4 470.0 132.3C469.9 133.1 469.7 133.9 469.6 134.8C469.4 135.6 469.3 136.5 469.1 137.3C468.9 138.1 468.8 139.0 468.6 139.8C468.4 140.6 468.2 141.5 468.0 142.3C467.8 143.1 467.6 143.9 467.4 144.7C467.2 145.5 466.9 146.3 466.7 147.1C466.5 147.9 466.2 148.7 466.0 149.5C465.7 150.3 465.4 151.0 465.2 151.8C464.9 152.6 464.6 153.4 464.3 154.1C464.0 154.9 463.7 155.7 463.4 156.4C463.1 157.2 462.8 157.9 462.5 158.7C462.2 159.5 461.9 160.2 461.6 161.0C461.2 161.7 460.9 162.5 460.6 163.2C460.2 164.0 459.9 164.7 459.5 165.5C459.2 166.2 458.9 167.0 458.5 167.7C458.2 168.5 457.8 169.2 457.4 170.0C457.1 170.7 456.7 171.5 456.4 172.3C456.0 173.0 455.7 173.8 455.3 174.5C454.9 175.3 454.6 176.1 454.2 176.8C453.8 177.6 453.5 178.3 453.1 179.1C452.7 179.9 452.3 180.6 452.0 181.4C451.6 182.1 451.2 182.9 450.8 183.6C450.4 184.4 450.0 185.1 449.6 185.9C449.2 186.6 448.8 187.4 448.4 188.1C448.0 188.9 447.6 189.6 447.2 190.4C446.8 191.1 446.4 191.8 445.9 192.6C445.5 193.3 445.1 194.0 444.6 194.7C444.2 195.4 443.7 196.1 443.3 196.8C442.8 197.5 442.3 198.2 441.9 198.9C441.4 199.6 440.9 200.3 440.4 201.0C439.9 201.6 439.4 202.3 438.9 203.0C438.4 203.6 437.9 204.3 437.3 204.9C436.8 205.5 436.3 206.2 435.7 206.8C435.2 207.4 434.6 208.0 434.0 208.6C433.5 209.2 432.9 209.8 432.3 210.3C431.7 210.9 431.1 211.5 430.5 212.0C429.8 212.5 429.2 213.1 428.6 213.6C427.9 214.1 427.3 214.6 426.6 215.1C425.9 215.6 425.2 216.1 424.6 216.5C423.9 217.0 423.2 217.4 422.4 217.9C421.7 218.3 421.0 218.7 420.3 219.1C419.5 219.5 418.8 219.9 418.0 220.3C417.3 220.7 416.5 221.0 415.8 221.4C415.0 221.7 414.2 222.0 413.4 222.3C412.6 222.6 411.9 222.9 411.1 223.2C410.3 223.5 409.5 223.8 408.7 224.0C407.9 224.2 407.1 224.5 406.3 224.7C405.4 224.9 404.6 225.1 403.8 225.3C403.0 225.4 402.2 225.6 401.4 225.7C400.6 225.9 399.7 226.0 398.9 226.1C398.1 226.3 397.3 226.4 396.4 226.5C395.6 226.6 394.8 226.7 393.9 226.7C393.1 226.8 392.3 226.9 391.4 226.9C390.6 227.0 389.8 227.0 388.9 227.1C388.1 227.1 387.3 227.2 386.4 227.2C385.6 227.2 384.7 227.2 383.9 227.3C383.1 227.3 382.2 227.3 381.4 227.3C380.5 227.3 379.7 227.3 378.8 227.3C378.0 227.4 377.2 227.4 376.3 227.4C375.5 227.4 374.6 227.4 373.8 227.4C372.9 227.4 372.1 227.4 371.3 227.4C370.4 227.4 369.6 227.5 368.7 227.5C367.9 227.5 367.1 227.5 366.2 227.6C365.4 227.6 364.5 227.6 363.7 227.7C362.9 227.7 362.0 227.8 361.2 227.8C360.4 227.9 359.5 228.0 358.7 228.0C357.9 228.1 357.0 228.2 356.2 228.3C355.4 228.4 354.6 228.5 353.7 228.6C352.9 228.7 352.1 228.9 351.3 229.0C350.4 229.1 349.6 229.3 348.8 229.4C348.0 229.6 347.2 229.7 346.4 229.9C345.5 230.0 344.7 230.2 343.9 230.4C343.1 230.5 342.3 230.7 341.5 230.9C340.7 231.1 339.9 231.3 339.1 231.5C338.3 231.7 337.5 231.9 336.7 232.1C335.9 232.3 335.1 232.6 334.3 232.8C333.4 233.0 332.7 233.2 331.8 233.5C331.0 233.7 330.2 233.9 329.4 234.1C328.6 234.4 327.8 234.6 327.0 234.8C326.2 235.1 325.4 235.3 324.6 235.5C323.8 235.7 323.0 235.9 322.2 236.1C321.3 236.3 320.5 236.5 319.7 236.7C318.8 236.9 318.0 237.1 317.2 237.2C316.3 237.4 315.5 237.5 314.6 237.6C313.8 237.7 313.0 237.7 312.1 237.7C311.3 237.7 310.5 237.7 309.7 237.5C308.8 237.4 308.0 237.2 307.2 237.0C306.4 236.8 305.6 236.4 304.9 236.1C304.1 235.8 303.3 235.4 302.5 235.1C301.7 234.8 300.9 234.4 300.2 234.2C299.4 233.9 298.6 233.6 297.8 233.5C297.0 233.3 296.2 233.2 295.3 233.2C294.5 233.2 293.7 233.3 292.9 233.4C292.1 233.6 291.3 233.8 290.5 234.1C289.7 234.4 288.9 234.8 288.2 235.2C287.4 235.6 286.7 236.1 286.0 236.6C285.3 237.0 284.6 237.5 283.9 238.1C283.3 238.6 282.6 239.1 282.0 239.7C281.4 240.2 280.7 240.8 280.2 241.4C279.6 242.0 279.0 242.6 278.4 243.2C277.9 243.8 277.4 244.4 276.9 245.1C276.3 245.7 275.9 246.4 275.4 247.1C274.9 247.7 274.4 248.4 274.0 249.1C273.5 249.8 273.1 250.5 272.6 251.2C272.2 251.9 271.8 252.6 271.3 253.3C270.9 254.0 270.5 254.8 270.0 255.5C269.6 256.2 269.2 256.9 268.7 257.6C268.3 258.4 267.9 259.1 267.4 259.8C267.0 260.5 266.5 261.2 266.1 261.9C265.6 262.7 265.2 263.4 264.7 264.1C264.3 264.8 263.8 265.5 263.4 266.2C262.9 266.9 262.4 267.6 261.9 268.3C261.5 269.0 261.0 269.7 260.5 270.3C260.0 271.0 259.5 271.7 259.0 272.4C258.5 273.0 257.9 273.7 257.4 274.3C256.9 275.0 256.4 275.6 255.8 276.2C255.3 276.8 254.7 277.5 254.1 278.1C253.6 278.7 253.0 279.3 252.4 279.8C251.8 280.4 251.2 281.0 250.6 281.5C250.0 282.1 249.3 282.6 248.7 283.1C248.0 283.7 247.4 284.2 246.7 284.7C246.0 285.1 245.3 285.6 244.6 286.1C243.9 286.5 243.2 287.0 242.5 287.4C241.8 287.8 241.0 288.3 240.3 288.7C239.6 289.2 238.9 289.6 238.2 290.1C237.5 290.5 236.8 291.0 236.2 291.5C235.5 292.0 234.9 292.6 234.3 293.1C233.6 293.7 233.0 294.2 232.4 294.8C231.7 295.3 231.1 295.8 230.4 296.3C229.7 296.9 229.0 297.4 228.3 297.8C227.5 298.3 226.7 298.7 225.9 299.0C225.1 299.4 224.3 299.6 223.5 299.8C222.7 299.9 221.9 300.0 221.1 299.9C220.2 299.8 219.4 299.6 218.7 299.2C217.9 298.9 217.2 298.4 216.5 298.0C215.8 297.5 215.2 296.9 214.6 296.3C214.0 295.7 213.4 295.1 212.9 294.5C212.4 293.8 212.0 293.1 211.5 292.4C211.1 291.8 210.7 291.0 210.3 290.3C209.9 289.6 209.5 288.9 209.1 288.1C208.7 287.4 208.3 286.6 207.9 285.8C207.5 285.1 207.2 284.3 206.8 283.5C206.4 282.8 206.0 282.0 205.7 281.2C205.3 280.5 204.9 279.7 204.5 278.9C204.2 278.1 203.8 277.4 203.4 276.6C203.0 275.8 202.6 275.1 202.2 274.3C201.8 273.6 201.4 272.8 201.0 272.1C200.5 271.3 200.1 270.6 199.7 269.9C199.2 269.2 198.8 268.5 198.3 267.8C197.8 267.1 197.3 266.4 196.8 265.8C196.3 265.1 195.8 264.5 195.3 263.9C194.7 263.3 194.2 262.7 193.6 262.1C193.0 261.6 192.4 261.0 191.8 260.5C191.1 260.0 190.5 259.5 189.8 259.0C189.1 258.6 188.4 258.1 187.7 257.7C187.0 257.3 186.2 256.9 185.5 256.6C184.7 256.2 183.9 255.9 183.1 255.5C182.4 255.2 181.6 254.9 180.7 254.6C179.9 254.4 179.1 254.1 178.3 253.8C177.5 253.6 176.7 253.4 175.8 253.1C175.0 252.9 174.2 252.7 173.3 252.5C172.5 252.3 171.7 252.1 170.9 252.0C170.1 251.8 169.3 251.6 168.5 251.4C167.7 251.3 166.9 251.1 166.1 251.0C165.3 250.9 164.5 250.7 163.7 250.6C162.9 250.5 162.1 250.4 161.3 250.3C160.4 250.2 159.6 250.1 158.8 250.0C158.0 250.0 157.1 249.9 156.3 249.9C155.4 249.8 154.1 249.8 153.7 249.8" stroke="#5B9BD5"/>
</g>
<line x1="79.3" x2="105.8" y1="37.8" y2="37.8" stroke="#4472C4" stroke-width="2"/>
<text x="108.4" y="43.7" font-size="17.5px" textLength="60.5" lengthAdjust="spacingAndGlyphs">Acetate</text>
<line x1="79.3" x2="105.8" y1="66.5" y2="66.5" stroke="#ED7D31" stroke-width="2"/>
<text x="108.4" y="72.2" font-size="17.5px" textLength="91.6" lengthAdjust="spacingAndGlyphs">Ammonium</text>
<line x1="79.3" x2="105.8" y1="94.8" y2="94.8" stroke="#A5A5A5" stroke-width="2"/>
<text x="108.4" y="100.5" font-size="17.5px" textLength="52.9" lengthAdjust="spacingAndGlyphs">Citrate</text>
<line x1="79.3" x2="105.8" y1="123.3" y2="123.3" stroke="#FFC000" stroke-width="2"/>
<text x="108.4" y="128.9" font-size="17.5px" textLength="63.6" lengthAdjust="spacingAndGlyphs">Tris-HCl</text>
<line x1="79.3" x2="105.8" y1="152.0" y2="152.0" stroke="#5B9BD5" stroke-width="2"/>
<text x="108.4" y="157.2" font-size="17.5px" textLength="30.5" lengthAdjust="spacingAndGlyphs">PBS</text>

<text x="44.8" y="23.0" text-anchor="end" font-size="16px">6</text>
<text x="44.8" y="57.9" text-anchor="end" font-size="16px">5</text>
<text x="44.8" y="92.7" text-anchor="end" font-size="16px">4</text>
<text x="44.8" y="127.5" text-anchor="end" font-size="16px">3</text>
<text x="44.8" y="162.3" text-anchor="end" font-size="16px">2</text>
<text x="44.8" y="197.2" text-anchor="end" font-size="16px">1</text>
<text x="44.8" y="232.0" text-anchor="end" font-size="16px">0</text>
<text x="44.8" y="266.8" text-anchor="end" font-size="16px">-1</text>
<text x="44.8" y="301.6" text-anchor="end" font-size="16px">-2</text>
<text x="44.8" y="336.5" text-anchor="end" font-size="16px">-3</text>

<text x="59.6" y="357.7" text-anchor="middle" font-size="16px">-0.5</text>
<text x="153.9" y="357.7" text-anchor="middle" font-size="16px">0</text>
<text x="248.2" y="357.7" text-anchor="middle" font-size="16px">0.5</text>
<text x="342.4" y="357.7" text-anchor="middle" font-size="16px">1</text>
<text x="436.7" y="357.7" text-anchor="middle" font-size="16px">1.5</text>
<text x="531.0" y="357.7" text-anchor="middle" font-size="16px">2</text>

<text x="197" y="383.6" font-size="17.5px" textLength="197" lengthAdjust="spacingAndGlyphs">Potential (V, vs Ag/AgCl)</text>
<text transform="translate(21.3 227) rotate(-90)" font-size="17.5px" textLength="106" lengthAdjust="spacingAndGlyphs">Current (mA)</text>
</svg>
</body></html>
